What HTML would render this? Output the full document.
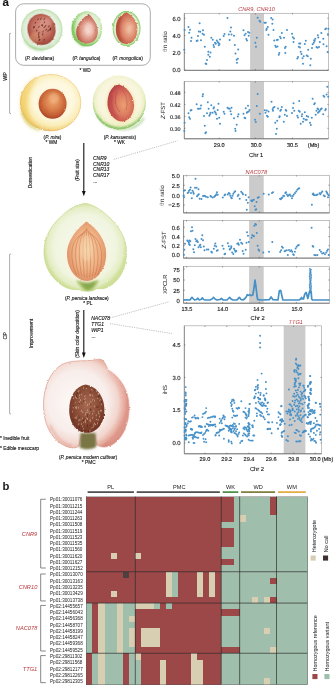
<!DOCTYPE html><html><head><meta charset="utf-8"><style>
html,body{margin:0;padding:0;background:#fff;width:333px;height:685px;overflow:hidden}
svg{display:block}
text{font-family:'Liberation Sans', sans-serif;fill:#1a1a1a}
.tk text{text-rendering:geometricPrecision;stroke:#1a1a1a;stroke-width:0.13px}
.tk text.red{stroke:none}
.tk text.ns{stroke:none}
.tk2 text{stroke:#1a1a1a;stroke-width:0.14px}
.it{font-style:italic}
.red{fill:#b8373c}
</style></head><body>
<svg width="333" height="685" viewBox="0 0 333 685">
<defs>
<filter id="rough" x="-10%" y="-10%" width="120%" height="120%"><feTurbulence type="fractalNoise" baseFrequency="0.35" numOctaves="2" seed="4" result="n"/><feDisplacementMap in="SourceGraphic" in2="n" scale="2.2" xChannelSelector="R" yChannelSelector="G"/></filter>
<filter id="blur1" x="-30%" y="-30%" width="160%" height="160%"><feGaussianBlur stdDeviation="1.1"/></filter>
<filter id="blur2" x="-30%" y="-30%" width="160%" height="160%"><feGaussianBlur stdDeviation="2"/></filter>
<radialGradient id="g_dav_out" cx="50%" cy="50%" r="50%"><stop offset="0" stop-color="#f6faf2"/><stop offset="0.7" stop-color="#eaf3e4"/><stop offset="0.9" stop-color="#d8ebd0"/><stop offset="1" stop-color="#bcdfac"/></radialGradient>
<radialGradient id="g_dav_in" cx="52%" cy="44%" r="62%"><stop offset="0" stop-color="#d89484"/><stop offset="0.5" stop-color="#c47262"/><stop offset="0.82" stop-color="#a44c3e"/><stop offset="1" stop-color="#823428"/></radialGradient>
<radialGradient id="g_tan_out" cx="55%" cy="45%" r="52%"><stop offset="0" stop-color="#f2f8ec"/><stop offset="0.72" stop-color="#dcefcf"/><stop offset="0.9" stop-color="#acdc90"/><stop offset="1" stop-color="#80c45e"/></radialGradient>
<radialGradient id="g_tan_in" cx="55%" cy="55%" r="58%"><stop offset="0" stop-color="#f8e0d6"/><stop offset="0.45" stop-color="#e4a696"/><stop offset="0.8" stop-color="#c86e5c"/><stop offset="1" stop-color="#a84a3c"/></radialGradient>
<radialGradient id="g_mon_out" cx="50%" cy="50%" r="50%"><stop offset="0" stop-color="#f0f8ea"/><stop offset="0.86" stop-color="#e0f0d4"/><stop offset="0.94" stop-color="#a8dc88"/><stop offset="1" stop-color="#78c458"/></radialGradient>
<radialGradient id="g_mon_in" cx="62%" cy="52%" r="62%"><stop offset="0" stop-color="#f2c6aa"/><stop offset="0.5" stop-color="#de8a6e"/><stop offset="1" stop-color="#b84c3a"/></radialGradient>
<radialGradient id="g_mira_out" cx="55%" cy="45%" r="55%"><stop offset="0" stop-color="#fffdf2"/><stop offset="0.6" stop-color="#fdf7dc"/><stop offset="0.82" stop-color="#faedb8"/><stop offset="0.94" stop-color="#f4d88a"/><stop offset="1" stop-color="#ecc070"/></radialGradient>
<radialGradient id="g_mira_in" cx="52%" cy="42%" r="60%"><stop offset="0" stop-color="#eea672"/><stop offset="0.4" stop-color="#de8650"/><stop offset="0.8" stop-color="#c25c32"/><stop offset="1" stop-color="#a23e22"/></radialGradient>
<radialGradient id="g_kan_out" cx="50%" cy="45%" r="52%"><stop offset="0" stop-color="#fdfcf0"/><stop offset="0.75" stop-color="#f8f5dc"/><stop offset="0.9" stop-color="#eef0c8"/><stop offset="0.96" stop-color="#c4de9a"/><stop offset="1" stop-color="#98c878"/></radialGradient>
<radialGradient id="g_kan_in" cx="60%" cy="55%" r="60%"><stop offset="0" stop-color="#eaa070"/><stop offset="0.45" stop-color="#dc7e62"/><stop offset="0.8" stop-color="#c85650"/><stop offset="1" stop-color="#b44048"/></radialGradient>
<radialGradient id="g_pl_out" cx="50%" cy="50%" r="50%"><stop offset="0" stop-color="#f8faf0"/><stop offset="0.75" stop-color="#f0f5e0"/><stop offset="0.92" stop-color="#e4edc4"/><stop offset="1" stop-color="#d0e09a"/></radialGradient>
<radialGradient id="g_pl_in" cx="50%" cy="48%" r="55%"><stop offset="0" stop-color="#f6d4a8"/><stop offset="0.6" stop-color="#eeb284"/><stop offset="1" stop-color="#dc8e62"/></radialGradient>
<radialGradient id="g_pmc_out" cx="40%" cy="48%" r="58%"><stop offset="0" stop-color="#fdfaf8"/><stop offset="0.6" stop-color="#f8eeeb"/><stop offset="0.82" stop-color="#f2d6ce"/><stop offset="0.94" stop-color="#e6aea0"/><stop offset="1" stop-color="#d88e80"/></radialGradient>
<radialGradient id="g_pmc_in" cx="50%" cy="42%" r="58%"><stop offset="0" stop-color="#a86a52"/><stop offset="0.6" stop-color="#8a4c36"/><stop offset="1" stop-color="#703424"/></radialGradient>
</defs>
<rect x="15.6" y="3.8" width="134.7" height="61.5" rx="8" ry="8" fill="none" stroke="#666" stroke-width="0.55"/>
<circle cx="41.8" cy="29.5" r="20.8" fill="url(#g_dav_out)" filter="url(#rough)"/>
<path d="M24,40 C27,47 35,51 44,50.5" stroke="#9ccf86" stroke-width="1.6" fill="none" opacity="0.7" filter="url(#blur1)"/>
<ellipse cx="41.5" cy="29.4" rx="14" ry="15.7" transform="rotate(-12 41.5 29.4)" fill="url(#g_dav_in)" filter="url(#rough)"/>
<ellipse cx="35.5" cy="37.5" rx="6.5" ry="5" fill="#e0a078" opacity="0.45" filter="url(#blur1)"/>
<path d="M30,46 C36,50 46,50 51,45" stroke="#9ccc88" stroke-width="1.5" fill="none" opacity="0.5" filter="url(#blur1)"/>
<ellipse cx="46" cy="22" rx="6" ry="4.5" fill="#e0a094" opacity="0.55" filter="url(#blur1)"/>
<ellipse cx="35.4" cy="22.7" rx="0.45" ry="1.1" fill="#4e1812" opacity="0.75" transform="rotate(25 35.4 22.7)"/>
<ellipse cx="44.2" cy="19.1" rx="0.45" ry="1.1" fill="#4e1812" opacity="0.75" transform="rotate(25 44.2 19.1)"/>
<ellipse cx="40.9" cy="18.8" rx="0.45" ry="1.1" fill="#4e1812" opacity="0.75" transform="rotate(25 40.9 18.8)"/>
<ellipse cx="48.1" cy="30.8" rx="0.45" ry="1.1" fill="#4e1812" opacity="0.75" transform="rotate(25 48.1 30.8)"/>
<ellipse cx="48.9" cy="26.3" rx="0.45" ry="1.1" fill="#4e1812" opacity="0.75" transform="rotate(25 48.9 26.3)"/>
<ellipse cx="44.2" cy="27.2" rx="0.45" ry="1.1" fill="#4e1812" opacity="0.75" transform="rotate(25 44.2 27.2)"/>
<ellipse cx="36.7" cy="30.5" rx="0.45" ry="1.1" fill="#4e1812" opacity="0.75" transform="rotate(25 36.7 30.5)"/>
<ellipse cx="34.3" cy="27.1" rx="0.45" ry="1.1" fill="#4e1812" opacity="0.75" transform="rotate(25 34.3 27.1)"/>
<ellipse cx="46.1" cy="29.8" rx="0.45" ry="1.1" fill="#4e1812" opacity="0.75" transform="rotate(25 46.1 29.8)"/>
<ellipse cx="39.8" cy="39.8" rx="0.45" ry="1.1" fill="#4e1812" opacity="0.75" transform="rotate(25 39.8 39.8)"/>
<ellipse cx="41.9" cy="25.0" rx="0.45" ry="1.1" fill="#4e1812" opacity="0.75" transform="rotate(25 41.9 25.0)"/>
<ellipse cx="42.6" cy="25.5" rx="0.45" ry="1.1" fill="#4e1812" opacity="0.75" transform="rotate(25 42.6 25.5)"/>
<ellipse cx="38.9" cy="26.7" rx="0.45" ry="1.1" fill="#4e1812" opacity="0.75" transform="rotate(25 38.9 26.7)"/>
<ellipse cx="50.7" cy="29.5" rx="0.45" ry="1.1" fill="#4e1812" opacity="0.75" transform="rotate(25 50.7 29.5)"/>
<ellipse cx="42.7" cy="34.4" rx="0.45" ry="1.1" fill="#4e1812" opacity="0.75" transform="rotate(25 42.7 34.4)"/>
<ellipse cx="50.6" cy="28.3" rx="0.45" ry="1.1" fill="#4e1812" opacity="0.75" transform="rotate(25 50.6 28.3)"/>
<ellipse cx="39.1" cy="39.9" rx="0.45" ry="1.1" fill="#4e1812" opacity="0.75" transform="rotate(25 39.1 39.9)"/>
<ellipse cx="33.6" cy="27.2" rx="0.45" ry="1.1" fill="#4e1812" opacity="0.75" transform="rotate(25 33.6 27.2)"/>
<ellipse cx="44.2" cy="39.7" rx="0.45" ry="1.1" fill="#4e1812" opacity="0.75" transform="rotate(25 44.2 39.7)"/>
<ellipse cx="38.0" cy="19.3" rx="0.45" ry="1.1" fill="#4e1812" opacity="0.75" transform="rotate(25 38.0 19.3)"/>
<ellipse cx="45.7" cy="25.7" rx="0.45" ry="1.1" fill="#4e1812" opacity="0.75" transform="rotate(25 45.7 25.7)"/>
<ellipse cx="38.9" cy="32.9" rx="0.45" ry="1.1" fill="#4e1812" opacity="0.75" transform="rotate(25 38.9 32.9)"/>
<ellipse cx="43.0" cy="31.6" rx="0.45" ry="1.1" fill="#4e1812" opacity="0.75" transform="rotate(25 43.0 31.6)"/>
<ellipse cx="39.1" cy="37.6" rx="0.45" ry="1.1" fill="#4e1812" opacity="0.75" transform="rotate(25 39.1 37.6)"/>
<ellipse cx="49.6" cy="29.6" rx="0.45" ry="1.1" fill="#4e1812" opacity="0.75" transform="rotate(25 49.6 29.6)"/>
<ellipse cx="38.6" cy="34.6" rx="0.45" ry="1.1" fill="#4e1812" opacity="0.75" transform="rotate(25 38.6 34.6)"/>
<ellipse cx="44.3" cy="22.4" rx="0.45" ry="1.1" fill="#4e1812" opacity="0.75" transform="rotate(25 44.3 22.4)"/>
<ellipse cx="38.8" cy="36.4" rx="0.45" ry="1.1" fill="#4e1812" opacity="0.75" transform="rotate(25 38.8 36.4)"/>
<ellipse cx="86.9" cy="28.9" rx="15.3" ry="17.6" fill="url(#g_tan_out)" filter="url(#rough)"/>
<path d="M74,22 C71,32 74,42 84,46" stroke="#86c862" stroke-width="2" fill="none" opacity="0.8" filter="url(#blur1)"/>
<path d="M88.4,14 C92.5,17 97.8,24 97.8,32 C97.8,39 93,43.4 87,43.4 C80.5,43.4 76.2,39 76.2,32 C76.2,24 83,18 88.4,14 Z" fill="url(#g_tan_in)" filter="url(#rough)"/>
<ellipse cx="89" cy="29" rx="4" ry="6" fill="#f6d6cc" opacity="0.55" filter="url(#blur1)"/>
<ellipse cx="126.6" cy="28.6" rx="13.9" ry="17.5" fill="url(#g_mon_out)" filter="url(#rough)"/>
<path d="M126.3,12.3 C131,14.5 137.4,20 137.4,29 C137.4,38 132.5,44 126.6,44 C120.5,44 115.8,38 115.8,29 C115.8,20 121,14.5 126.3,12.3 Z" fill="url(#g_mon_in)" filter="url(#rough)"/>
<path d="M120.5,17 C116.8,25 117.5,36 122,41.5" stroke="#a8402e" stroke-width="2" fill="none" opacity="0.7" filter="url(#blur1)"/>
<ellipse cx="50.6" cy="102.6" rx="30.6" ry="28.6" fill="url(#g_mira_out)" filter="url(#rough)"/>
<path d="M38,77 C26,82 20.5,94 21,106 C21.5,117 27,126 38,130 C30,122 27,112 27.5,103 C28,92 32,84 38,77 Z" fill="#f2cc5c" opacity="0.75" filter="url(#blur2)"/>
<path d="M22,112 C25,122 32,128 40,130" stroke="#c8cc60" stroke-width="2.5" fill="none" opacity="0.6" filter="url(#blur1)"/>
<ellipse cx="50.6" cy="102.6" rx="30.2" ry="28.2" fill="none" stroke="#eab060" stroke-width="0.6" opacity="0.7" filter="url(#rough)"/>
<ellipse cx="52.6" cy="103.8" rx="15.4" ry="16.4" fill="#fbf3d8" opacity="0.8" filter="url(#blur1)"/>
<ellipse cx="52.6" cy="103.8" rx="14" ry="15" fill="url(#g_mira_in)" filter="url(#rough)"/>
<ellipse cx="54" cy="98" rx="5" ry="5" fill="#f2ba8a" opacity="0.55" filter="url(#blur1)"/>
<ellipse cx="119.3" cy="102.6" rx="26.6" ry="27" fill="url(#g_kan_out)" filter="url(#rough)"/>
<path d="M97,115 C102,125 112,129.5 124,129.5 C134,129 140,125 144,118" stroke="#8cc064" stroke-width="1.6" fill="none" opacity="0.7" filter="url(#blur1)"/>
<path d="M118,83 C127,84.5 135,93 136,104 C136.5,114 131,122 123,123.5 C114,124 106.5,115 105.5,105 C105,95 110,84.5 118,83 Z" fill="#f6e4a8" opacity="0.6" filter="url(#blur1)"/>
<path d="M118,84.6 C126,86 133,94 134,104 C134.5,113 130,120 123,121.5 C115,122 108.5,114 107.5,105 C107,96 111,86 118,84.6 Z" fill="url(#g_kan_in)" filter="url(#rough)"/>
<path d="M112,96 C110,104 112,113 118,118" stroke="#a82a3e" stroke-width="1.3" fill="none" opacity="0.55" filter="url(#blur1)"/>
<path d="M117,92 C114,99 115,107 120,112" stroke="#b03048" stroke-width="0.8" fill="none" opacity="0.5"/>
<path d="M122,90 C127,95 128,103 126,110" stroke="#b03048" stroke-width="0.8" fill="none" opacity="0.4"/>
<path d="M84.6,203.4 C92,203.6 102,210 110,218 C119,227 126.5,238 126.5,252 C126.5,268 120,280 110,286 C106,288.5 101,289.5 97,288.5 L93,290.5 L84,291 L79,289.5 C74,290 68,289 63,286 C52,279 44,267 44,252 C44,237 51,226 60,217.5 C68,209.5 77,203.8 84.6,203.4 Z" fill="url(#g_pl_out)" stroke="#c2d886" stroke-width="0.7" filter="url(#rough)"/>
<path d="M76,280 C79,286 83,290.5 88,291 C93,290.5 97,286 99,280 Z" fill="#a8c46a" opacity="0.9" filter="url(#blur1)"/>
<path d="M80,281 C82,286 85,289.5 88,290 C91,289.5 94,286 96,281 Z" fill="#86a44a" opacity="0.9" filter="url(#blur1)"/>
<path d="M86.6,220 C97,227 108,240 108,254 C108,271 97,283 87,283 C76,283 65,271 65,254 C65,240 77,227 86.6,220 Z" fill="#faf2e0" opacity="0.8" filter="url(#blur1)"/>
<path d="M86.6,221.6 C96,228 106.2,240 106.2,254 C106.2,270 96,281 87,281 C77,281 67,270 67,254 C67,240 78,228 86.6,221.6 Z" fill="url(#g_pl_in)" filter="url(#rough)"/>
<path d="M82.6,234.0 C68.6,240.0 70.2,262.0 76.6,274.8" stroke="#c05a38" stroke-width="0.75" fill="none" opacity="0.5"/>
<path d="M83.6,232.5 C72.9,240.0 74.5,262.0 79.2,275.6" stroke="#c05a38" stroke-width="0.75" fill="none" opacity="0.5"/>
<path d="M84.6,231.0 C77.2,240.0 78.8,262.0 81.8,276.4" stroke="#c05a38" stroke-width="0.75" fill="none" opacity="0.5"/>
<path d="M85.6,229.5 C81.5,240.0 83.1,262.0 84.4,277.2" stroke="#c05a38" stroke-width="0.75" fill="none" opacity="0.5"/>
<path d="M86.6,228.0 C85.8,240.0 87.4,262.0 87.0,278.0" stroke="#c05a38" stroke-width="0.75" fill="none" opacity="0.5"/>
<path d="M87.6,229.5 C90.1,240.0 91.7,262.0 89.6,277.2" stroke="#c05a38" stroke-width="0.75" fill="none" opacity="0.5"/>
<path d="M88.6,231.0 C94.4,240.0 96.0,262.0 92.2,276.4" stroke="#c05a38" stroke-width="0.75" fill="none" opacity="0.5"/>
<path d="M89.6,232.5 C98.7,240.0 100.3,262.0 94.8,275.6" stroke="#c05a38" stroke-width="0.75" fill="none" opacity="0.5"/>
<path d="M90.6,234.0 C103.0,240.0 104.6,262.0 97.4,274.8" stroke="#c05a38" stroke-width="0.75" fill="none" opacity="0.5"/>
<ellipse cx="86.5" cy="248" rx="6" ry="13" fill="#f8d8b0" opacity="0.45" filter="url(#blur1)"/>
<path d="M43.5,405 C43.5,385 52,370 62,364.5 C70,360.5 80,361 90,360.5 C95,360 99,358.5 101.5,359.5 C104.5,361 106.5,366 108,370 C120,377 129,390 129,407 C129,427 121,441 109.6,446 C104,448 99,447 96,444 L95,436 L81,436 L79,446 C77,448 73,448.5 68,447 C53,442 43.5,426 43.5,405 Z" fill="url(#g_pmc_out)" stroke="#dc9a8c" stroke-width="0.7" filter="url(#rough)"/>
<path d="M108,372 C120,382 126,396 126,410 C126,425 118,436 108,442" stroke="#eaa8a0" stroke-width="4" fill="none" opacity="0.5" filter="url(#blur2)"/>
<path d="M50,425 C55,437 63,444 72,446" stroke="#e2a092" stroke-width="3" fill="none" opacity="0.45" filter="url(#blur1)"/>
<path d="M80.5,433 L95.5,433 L96.5,446.5 C93,449.5 85,450.5 79.5,447.5 Z" fill="#7a7444" filter="url(#blur1)"/>
<path d="M85.6,384.5 C96,386 104.4,396 104.4,410 C104.4,424 96.5,432.8 86.8,432.8 C77,432.8 69.2,424 69.2,410 C69.2,396 76,386 85.6,384.5 Z" fill="url(#g_pmc_in)" filter="url(#rough)"/>
<ellipse cx="87.7" cy="425.6" rx="0.4" ry="1.1" transform="rotate(-10 87.7 425.6)" fill="#4a1e12" opacity="0.65"/>
<ellipse cx="76.7" cy="398.2" rx="0.4" ry="1.1" transform="rotate(-35 76.7 398.2)" fill="#e6cdb4" opacity="0.65"/>
<ellipse cx="101.4" cy="410.7" rx="0.4" ry="1.1" transform="rotate(-19 101.4 410.7)" fill="#e6cdb4" opacity="0.65"/>
<ellipse cx="88.4" cy="431.3" rx="0.4" ry="1.1" transform="rotate(-2 88.4 431.3)" fill="#4a1e12" opacity="0.65"/>
<ellipse cx="92.5" cy="395.7" rx="0.4" ry="1.1" transform="rotate(11 92.5 395.7)" fill="#e6cdb4" opacity="0.65"/>
<ellipse cx="94.3" cy="423.5" rx="0.4" ry="1.1" transform="rotate(29 94.3 423.5)" fill="#e6cdb4" opacity="0.65"/>
<ellipse cx="73.2" cy="406.2" rx="0.4" ry="1.1" transform="rotate(14 73.2 406.2)" fill="#4a1e12" opacity="0.65"/>
<ellipse cx="99.6" cy="416.7" rx="0.4" ry="1.1" transform="rotate(7 99.6 416.7)" fill="#e6cdb4" opacity="0.65"/>
<ellipse cx="85.9" cy="412.8" rx="0.4" ry="1.1" transform="rotate(29 85.9 412.8)" fill="#e6cdb4" opacity="0.65"/>
<ellipse cx="73.4" cy="412.3" rx="0.4" ry="1.1" transform="rotate(30 73.4 412.3)" fill="#4a1e12" opacity="0.65"/>
<ellipse cx="83.4" cy="388.0" rx="0.4" ry="1.1" transform="rotate(-8 83.4 388.0)" fill="#e6cdb4" opacity="0.65"/>
<ellipse cx="90.2" cy="394.8" rx="0.4" ry="1.1" transform="rotate(35 90.2 394.8)" fill="#e6cdb4" opacity="0.65"/>
<ellipse cx="90.4" cy="404.2" rx="0.4" ry="1.1" transform="rotate(-29 90.4 404.2)" fill="#4a1e12" opacity="0.65"/>
<ellipse cx="90.0" cy="430.6" rx="0.4" ry="1.1" transform="rotate(-5 90.0 430.6)" fill="#e6cdb4" opacity="0.65"/>
<ellipse cx="80.7" cy="400.2" rx="0.4" ry="1.1" transform="rotate(1 80.7 400.2)" fill="#e6cdb4" opacity="0.65"/>
<ellipse cx="79.7" cy="417.8" rx="0.4" ry="1.1" transform="rotate(7 79.7 417.8)" fill="#4a1e12" opacity="0.65"/>
<ellipse cx="73.7" cy="398.2" rx="0.4" ry="1.1" transform="rotate(15 73.7 398.2)" fill="#e6cdb4" opacity="0.65"/>
<ellipse cx="100.2" cy="400.0" rx="0.4" ry="1.1" transform="rotate(39 100.2 400.0)" fill="#e6cdb4" opacity="0.65"/>
<ellipse cx="83.7" cy="401.0" rx="0.4" ry="1.1" transform="rotate(29 83.7 401.0)" fill="#4a1e12" opacity="0.65"/>
<ellipse cx="101.6" cy="404.3" rx="0.4" ry="1.1" transform="rotate(6 101.6 404.3)" fill="#e6cdb4" opacity="0.65"/>
<ellipse cx="85.1" cy="398.9" rx="0.4" ry="1.1" transform="rotate(27 85.1 398.9)" fill="#e6cdb4" opacity="0.65"/>
<ellipse cx="79.2" cy="403.6" rx="0.4" ry="1.1" transform="rotate(-35 79.2 403.6)" fill="#4a1e12" opacity="0.65"/>
<ellipse cx="96.5" cy="391.2" rx="0.4" ry="1.1" transform="rotate(-33 96.5 391.2)" fill="#e6cdb4" opacity="0.65"/>
<ellipse cx="90.0" cy="395.3" rx="0.4" ry="1.1" transform="rotate(-28 90.0 395.3)" fill="#e6cdb4" opacity="0.65"/>
<ellipse cx="83.0" cy="428.0" rx="0.4" ry="1.1" transform="rotate(30 83.0 428.0)" fill="#4a1e12" opacity="0.65"/>
<ellipse cx="98.9" cy="413.8" rx="0.4" ry="1.1" transform="rotate(-36 98.9 413.8)" fill="#e6cdb4" opacity="0.65"/>
<ellipse cx="85.0" cy="396.3" rx="0.4" ry="1.1" transform="rotate(30 85.0 396.3)" fill="#e6cdb4" opacity="0.65"/>
<ellipse cx="98.1" cy="407.1" rx="0.4" ry="1.1" transform="rotate(40 98.1 407.1)" fill="#4a1e12" opacity="0.65"/>
<ellipse cx="85.2" cy="414.8" rx="0.4" ry="1.1" transform="rotate(8 85.2 414.8)" fill="#e6cdb4" opacity="0.65"/>
<ellipse cx="93.8" cy="411.0" rx="0.4" ry="1.1" transform="rotate(-7 93.8 411.0)" fill="#e6cdb4" opacity="0.65"/>
<ellipse cx="81.9" cy="403.3" rx="0.4" ry="1.1" transform="rotate(-37 81.9 403.3)" fill="#4a1e12" opacity="0.65"/>
<ellipse cx="92.8" cy="399.7" rx="0.4" ry="1.1" transform="rotate(37 92.8 399.7)" fill="#e6cdb4" opacity="0.65"/>
<ellipse cx="94.6" cy="400.6" rx="0.4" ry="1.1" transform="rotate(-3 94.6 400.6)" fill="#e6cdb4" opacity="0.65"/>
<ellipse cx="74.1" cy="406.7" rx="0.4" ry="1.1" transform="rotate(8 74.1 406.7)" fill="#4a1e12" opacity="0.65"/>
<ellipse cx="75.1" cy="402.6" rx="0.4" ry="1.1" transform="rotate(35 75.1 402.6)" fill="#e6cdb4" opacity="0.65"/>
<ellipse cx="76.3" cy="408.3" rx="0.4" ry="1.1" transform="rotate(18 76.3 408.3)" fill="#e6cdb4" opacity="0.65"/>
<ellipse cx="87.5" cy="421.3" rx="0.4" ry="1.1" transform="rotate(38 87.5 421.3)" fill="#4a1e12" opacity="0.65"/>
<ellipse cx="75.1" cy="406.8" rx="0.4" ry="1.1" transform="rotate(-39 75.1 406.8)" fill="#e6cdb4" opacity="0.65"/>
<ellipse cx="76.3" cy="417.7" rx="0.4" ry="1.1" transform="rotate(-38 76.3 417.7)" fill="#e6cdb4" opacity="0.65"/>
<ellipse cx="77.3" cy="397.1" rx="0.4" ry="1.1" transform="rotate(-35 77.3 397.1)" fill="#4a1e12" opacity="0.65"/>
<ellipse cx="79.2" cy="398.0" rx="0.4" ry="1.1" transform="rotate(14 79.2 398.0)" fill="#e6cdb4" opacity="0.65"/>
<ellipse cx="78.7" cy="424.1" rx="0.4" ry="1.1" transform="rotate(19 78.7 424.1)" fill="#e6cdb4" opacity="0.65"/>
<ellipse cx="90.7" cy="409.8" rx="0.4" ry="1.1" transform="rotate(14 90.7 409.8)" fill="#4a1e12" opacity="0.65"/>
<ellipse cx="94.6" cy="406.4" rx="0.4" ry="1.1" transform="rotate(-3 94.6 406.4)" fill="#e6cdb4" opacity="0.65"/>
<ellipse cx="79.2" cy="402.0" rx="0.4" ry="1.1" transform="rotate(-11 79.2 402.0)" fill="#e6cdb4" opacity="0.65"/>
<ellipse cx="83.1" cy="421.6" rx="0.4" ry="1.1" transform="rotate(8 83.1 421.6)" fill="#4a1e12" opacity="0.65"/>
<ellipse cx="83.7" cy="422.1" rx="0.4" ry="1.1" transform="rotate(22 83.7 422.1)" fill="#e6cdb4" opacity="0.65"/>
<ellipse cx="98.7" cy="411.9" rx="0.4" ry="1.1" transform="rotate(19 98.7 411.9)" fill="#e6cdb4" opacity="0.65"/>
<ellipse cx="84.0" cy="418.9" rx="0.4" ry="1.1" transform="rotate(24 84.0 418.9)" fill="#4a1e12" opacity="0.65"/>
<ellipse cx="87.3" cy="418.7" rx="0.4" ry="1.1" transform="rotate(-5 87.3 418.7)" fill="#e6cdb4" opacity="0.65"/>
<ellipse cx="85.2" cy="402.2" rx="0.4" ry="1.1" transform="rotate(-14 85.2 402.2)" fill="#e6cdb4" opacity="0.65"/>
<ellipse cx="79.5" cy="426.8" rx="0.4" ry="1.1" transform="rotate(-5 79.5 426.8)" fill="#4a1e12" opacity="0.65"/>
<ellipse cx="90.9" cy="401.7" rx="0.4" ry="1.1" transform="rotate(-13 90.9 401.7)" fill="#e6cdb4" opacity="0.65"/>
<ellipse cx="78.0" cy="391.9" rx="0.4" ry="1.1" transform="rotate(-4 78.0 391.9)" fill="#e6cdb4" opacity="0.65"/>
<ellipse cx="87.7" cy="416.7" rx="0.4" ry="1.1" transform="rotate(2 87.7 416.7)" fill="#4a1e12" opacity="0.65"/>
<ellipse cx="92.0" cy="427.8" rx="0.4" ry="1.1" transform="rotate(27 92.0 427.8)" fill="#e6cdb4" opacity="0.65"/>
<ellipse cx="90.2" cy="419.9" rx="0.4" ry="1.1" transform="rotate(25 90.2 419.9)" fill="#e6cdb4" opacity="0.65"/>
<ellipse cx="77.8" cy="393.3" rx="0.4" ry="1.1" transform="rotate(-12 77.8 393.3)" fill="#4a1e12" opacity="0.65"/>
<ellipse cx="92.7" cy="417.8" rx="0.4" ry="1.1" transform="rotate(24 92.7 417.8)" fill="#e6cdb4" opacity="0.65"/>
<ellipse cx="85.6" cy="422.1" rx="0.4" ry="1.1" transform="rotate(-7 85.6 422.1)" fill="#e6cdb4" opacity="0.65"/>
<ellipse cx="77.8" cy="416.0" rx="0.4" ry="1.1" transform="rotate(34 77.8 416.0)" fill="#4a1e12" opacity="0.65"/>
<ellipse cx="87.4" cy="410.3" rx="0.4" ry="1.1" transform="rotate(35 87.4 410.3)" fill="#e6cdb4" opacity="0.65"/>
<ellipse cx="98.4" cy="393.7" rx="0.4" ry="1.1" transform="rotate(-5 98.4 393.7)" fill="#e6cdb4" opacity="0.65"/>
<ellipse cx="101.5" cy="402.3" rx="0.4" ry="1.1" transform="rotate(-22 101.5 402.3)" fill="#4a1e12" opacity="0.65"/>
<ellipse cx="86.4" cy="388.4" rx="0.4" ry="1.1" transform="rotate(13 86.4 388.4)" fill="#e6cdb4" opacity="0.65"/>
<ellipse cx="78.3" cy="407.6" rx="0.4" ry="1.1" transform="rotate(-13 78.3 407.6)" fill="#e6cdb4" opacity="0.65"/>
<ellipse cx="87.4" cy="414.8" rx="0.4" ry="1.1" transform="rotate(7 87.4 414.8)" fill="#4a1e12" opacity="0.65"/>
<ellipse cx="83.5" cy="428.7" rx="0.4" ry="1.1" transform="rotate(-36 83.5 428.7)" fill="#e6cdb4" opacity="0.65"/>
<ellipse cx="97.8" cy="398.3" rx="0.4" ry="1.1" transform="rotate(34 97.8 398.3)" fill="#e6cdb4" opacity="0.65"/>
<ellipse cx="98.9" cy="396.1" rx="0.4" ry="1.1" transform="rotate(6 98.9 396.1)" fill="#4a1e12" opacity="0.65"/>
<ellipse cx="100.6" cy="410.6" rx="0.4" ry="1.1" transform="rotate(-26 100.6 410.6)" fill="#e6cdb4" opacity="0.65"/>
<ellipse cx="82.8" cy="426.4" rx="0.4" ry="1.1" transform="rotate(2 82.8 426.4)" fill="#e6cdb4" opacity="0.65"/>
<ellipse cx="73.5" cy="420.2" rx="0.4" ry="1.1" transform="rotate(9 73.5 420.2)" fill="#4a1e12" opacity="0.65"/>
<ellipse cx="82.4" cy="418.5" rx="0.4" ry="1.1" transform="rotate(29 82.4 418.5)" fill="#e6cdb4" opacity="0.65"/>
<ellipse cx="72.8" cy="411.8" rx="0.4" ry="1.1" transform="rotate(-12 72.8 411.8)" fill="#e6cdb4" opacity="0.65"/>
<ellipse cx="90.6" cy="424.6" rx="0.4" ry="1.1" transform="rotate(25 90.6 424.6)" fill="#4a1e12" opacity="0.65"/>
<ellipse cx="93.6" cy="426.6" rx="0.4" ry="1.1" transform="rotate(34 93.6 426.6)" fill="#e6cdb4" opacity="0.65"/>
<ellipse cx="91.8" cy="389.8" rx="0.4" ry="1.1" transform="rotate(-39 91.8 389.8)" fill="#e6cdb4" opacity="0.65"/>
<ellipse cx="76.5" cy="393.9" rx="0.4" ry="1.1" transform="rotate(-36 76.5 393.9)" fill="#4a1e12" opacity="0.65"/>
<ellipse cx="85.7" cy="420.6" rx="0.4" ry="1.1" transform="rotate(2 85.7 420.6)" fill="#e6cdb4" opacity="0.65"/>
<ellipse cx="77.1" cy="416.2" rx="0.4" ry="1.1" transform="rotate(22 77.1 416.2)" fill="#e6cdb4" opacity="0.65"/>
<ellipse cx="90.5" cy="409.1" rx="0.4" ry="1.1" transform="rotate(-30 90.5 409.1)" fill="#4a1e12" opacity="0.65"/>
<ellipse cx="89.8" cy="413.2" rx="0.4" ry="1.1" transform="rotate(38 89.8 413.2)" fill="#e6cdb4" opacity="0.65"/>
<ellipse cx="89.7" cy="403.8" rx="0.4" ry="1.1" transform="rotate(0 89.7 403.8)" fill="#e6cdb4" opacity="0.65"/>
<ellipse cx="83.2" cy="420.6" rx="0.4" ry="1.1" transform="rotate(-12 83.2 420.6)" fill="#4a1e12" opacity="0.65"/>
<ellipse cx="79.4" cy="395.3" rx="0.4" ry="1.1" transform="rotate(-11 79.4 395.3)" fill="#e6cdb4" opacity="0.65"/>
<ellipse cx="90.1" cy="421.0" rx="0.4" ry="1.1" transform="rotate(-30 90.1 421.0)" fill="#e6cdb4" opacity="0.65"/>
<ellipse cx="74.1" cy="402.5" rx="0.4" ry="1.1" transform="rotate(-10 74.1 402.5)" fill="#4a1e12" opacity="0.65"/>
<ellipse cx="92.7" cy="413.6" rx="0.4" ry="1.1" transform="rotate(-10 92.7 413.6)" fill="#e6cdb4" opacity="0.65"/>
<ellipse cx="75.6" cy="396.9" rx="0.4" ry="1.1" transform="rotate(-10 75.6 396.9)" fill="#e6cdb4" opacity="0.65"/>
<ellipse cx="90.8" cy="392.2" rx="0.4" ry="1.1" transform="rotate(-5 90.8 392.2)" fill="#4a1e12" opacity="0.65"/>
<ellipse cx="79.0" cy="420.4" rx="0.4" ry="1.1" transform="rotate(16 79.0 420.4)" fill="#e6cdb4" opacity="0.65"/>
<ellipse cx="75.1" cy="418.0" rx="0.4" ry="1.1" transform="rotate(-3 75.1 418.0)" fill="#e6cdb4" opacity="0.65"/>
<ellipse cx="87.2" cy="425.5" rx="0.4" ry="1.1" transform="rotate(16 87.2 425.5)" fill="#4a1e12" opacity="0.65"/>
<ellipse cx="96.2" cy="415.4" rx="0.4" ry="1.1" transform="rotate(-6 96.2 415.4)" fill="#e6cdb4" opacity="0.65"/>
<ellipse cx="98.1" cy="394.1" rx="0.4" ry="1.1" transform="rotate(-10 98.1 394.1)" fill="#e6cdb4" opacity="0.65"/>
<ellipse cx="98.2" cy="397.0" rx="0.4" ry="1.1" transform="rotate(-19 98.2 397.0)" fill="#4a1e12" opacity="0.65"/>
<ellipse cx="81.3" cy="410.8" rx="0.4" ry="1.1" transform="rotate(25 81.3 410.8)" fill="#e6cdb4" opacity="0.65"/>
<ellipse cx="78.9" cy="390.9" rx="0.4" ry="1.1" transform="rotate(23 78.9 390.9)" fill="#e6cdb4" opacity="0.65"/>
<ellipse cx="80.0" cy="392.3" rx="0.4" ry="1.1" transform="rotate(5 80.0 392.3)" fill="#4a1e12" opacity="0.65"/>
<ellipse cx="96.6" cy="419.4" rx="0.4" ry="1.1" transform="rotate(-40 96.6 419.4)" fill="#e6cdb4" opacity="0.65"/>
<ellipse cx="95.5" cy="424.5" rx="0.4" ry="1.1" transform="rotate(-36 95.5 424.5)" fill="#e6cdb4" opacity="0.65"/>
<ellipse cx="91.0" cy="412.9" rx="0.4" ry="1.1" transform="rotate(30 91.0 412.9)" fill="#4a1e12" opacity="0.65"/>
<ellipse cx="87.9" cy="412.1" rx="0.4" ry="1.1" transform="rotate(27 87.9 412.1)" fill="#e6cdb4" opacity="0.65"/>
<ellipse cx="97.4" cy="423.3" rx="0.4" ry="1.1" transform="rotate(14 97.4 423.3)" fill="#e6cdb4" opacity="0.65"/>
<ellipse cx="94.8" cy="390.2" rx="0.4" ry="1.1" transform="rotate(6 94.8 390.2)" fill="#4a1e12" opacity="0.65"/>
<ellipse cx="87.7" cy="404.9" rx="0.4" ry="1.1" transform="rotate(21 87.7 404.9)" fill="#e6cdb4" opacity="0.65"/>
<ellipse cx="73.3" cy="407.6" rx="0.4" ry="1.1" transform="rotate(-31 73.3 407.6)" fill="#e6cdb4" opacity="0.65"/>
<ellipse cx="86.7" cy="387.2" rx="0.4" ry="1.1" transform="rotate(-35 86.7 387.2)" fill="#4a1e12" opacity="0.65"/>
<ellipse cx="81.4" cy="424.1" rx="0.4" ry="1.1" transform="rotate(26 81.4 424.1)" fill="#e6cdb4" opacity="0.65"/>
<ellipse cx="87.1" cy="418.5" rx="0.4" ry="1.1" transform="rotate(-20 87.1 418.5)" fill="#e6cdb4" opacity="0.65"/>
<ellipse cx="76.4" cy="396.0" rx="0.4" ry="1.1" transform="rotate(-9 76.4 396.0)" fill="#4a1e12" opacity="0.65"/>
<ellipse cx="80.0" cy="419.5" rx="0.4" ry="1.1" transform="rotate(-12 80.0 419.5)" fill="#e6cdb4" opacity="0.65"/>
<ellipse cx="82.8" cy="412.2" rx="0.4" ry="1.1" transform="rotate(0 82.8 412.2)" fill="#e6cdb4" opacity="0.65"/>
<ellipse cx="96.9" cy="406.6" rx="0.4" ry="1.1" transform="rotate(20 96.9 406.6)" fill="#4a1e12" opacity="0.65"/>
<ellipse cx="93.9" cy="424.8" rx="0.4" ry="1.1" transform="rotate(20 93.9 424.8)" fill="#e6cdb4" opacity="0.65"/>
<ellipse cx="81.5" cy="394.6" rx="0.4" ry="1.1" transform="rotate(-1 81.5 394.6)" fill="#e6cdb4" opacity="0.65"/>
<ellipse cx="77.4" cy="392.3" rx="0.4" ry="1.1" transform="rotate(-28 77.4 392.3)" fill="#4a1e12" opacity="0.65"/>
<ellipse cx="98.2" cy="420.0" rx="0.4" ry="1.1" transform="rotate(33 98.2 420.0)" fill="#e6cdb4" opacity="0.65"/>
<ellipse cx="76.2" cy="407.4" rx="0.4" ry="1.1" transform="rotate(18 76.2 407.4)" fill="#e6cdb4" opacity="0.65"/>
<g class="tk2">
<text x="25" y="60.3" font-size="4.8">(<tspan class="it">P. davidiana</tspan>)</text>
<text x="72.5" y="60.3" font-size="4.8">(<tspan class="it">P. tangutica</tspan>)</text>
<text x="112.4" y="60.3" font-size="4.8">(<tspan class="it">P. mongolica</tspan>)</text>
<text x="79.5" y="72.2" font-size="4.8">* WD</text>
<text x="43.6" y="138.9" font-size="4.8">(<tspan class="it">P. mira</tspan>)</text>
<text x="45.6" y="144.1" font-size="4.8">* WM</text>
<text x="103.7" y="139.0" font-size="4.8">(<tspan class="it">P. kansuensis</tspan>)</text>
<text x="114" y="144.4" font-size="4.8">* WK</text>
<text x="65" y="299.6" font-size="4.8">(<tspan class="it">P. persica landrace</tspan>)</text>
<text x="83.3" y="304.5" font-size="4.8">* PL</text>
<text x="59" y="458.6" font-size="4.8">(<tspan class="it">P. persica modern cultivar</tspan>)</text>
<text x="81.8" y="463.6" font-size="4.8">* PMC</text>
<text x="0" y="440.3" font-size="4.8">* Inedible fruit</text>
<text x="0" y="449.6" font-size="4.8">* Edible mesocarp</text>
<text x="2.4" y="5.9" font-size="11.5" font-weight="bold">a</text>
<polyline points="11,33.2 9.6,33.6 9.6,113.2 11,113.6" fill="none" stroke="#8a8a8a" stroke-width="0.7"/>
<text transform="translate(6.9,76.5) rotate(-90)" font-size="5.2" text-anchor="middle" class="" >WP</text>
<polyline points="11,254 9.6,254.4 9.6,413.6 11,414" fill="none" stroke="#8a8a8a" stroke-width="0.7"/>
<text transform="translate(6.9,336) rotate(-90)" font-size="5.2" text-anchor="middle" class="" >CP</text>
<text transform="translate(32.3,172.5) rotate(-90)" font-size="5" text-anchor="middle" class="" >Domestication</text>
<text transform="translate(32.5,333.5) rotate(-90)" font-size="5" text-anchor="middle" class="" >Improvement</text>
<text transform="translate(79.4,170) rotate(-90)" font-size="4.6" text-anchor="middle" class="" >(Fruit size)</text>
<text transform="translate(78.9,334) rotate(-90)" font-size="4.8" text-anchor="middle" class="" >(Skin color deposition)</text>
<line x1="83.8" y1="143" x2="83.8" y2="191.5" stroke="#111" stroke-width="1.1"/>
<path d="M81.9,191 L85.7,191 L83.8,196.3 Z" fill="#111"/>
<line x1="83.8" y1="310" x2="83.8" y2="353" stroke="#111" stroke-width="1.1"/>
<path d="M81.9,352.6 L85.7,352.6 L83.8,357.9 Z" fill="#111"/>
<text x="93" y="159.70" font-size="5.0" class="it">CNR9</text>
<text x="93" y="165.55" font-size="5.0" class="it">CNR10</text>
<text x="93" y="171.40" font-size="5.0" class="it">CNR13</text>
<text x="93" y="177.25" font-size="5.0" class="it">CNR17</text>
<text x="93.3" y="182.60" font-size="4.8">...</text>
<text x="91.2" y="319.90" font-size="5.0" class="it">NAC078</text>
<text x="91.2" y="325.80" font-size="5.0" class="it">TTG1</text>
<text x="91.2" y="331.70" font-size="5.0" class="it">WIP1</text>
<text x="91.5" y="337.60" font-size="4.8">...</text>
<g stroke="#777" stroke-width="0.45" stroke-dasharray="1.2,1">
<line x1="113.7" y1="159.4" x2="177.5" y2="140.8"/>
<line x1="110" y1="317.9" x2="168.6" y2="301.9"/>
<line x1="110" y1="323.6" x2="172.3" y2="333.6"/>
</g>
</g>
<g class="tk">
<rect x="250.1" y="13.3" width="13.900000000000006" height="57.0" fill="#cbcbcb"/>
<rect x="184.3" y="13.3" width="144.2" height="57.0" fill="none" stroke="#a6a6a6" stroke-width="0.7"/>
<line x1="184.3" y1="70.3" x2="328.5" y2="70.3" stroke="#666" stroke-width="0.8"/>
<line x1="184.3" y1="13.3" x2="184.3" y2="70.3" stroke="#777" stroke-width="0.7"/>
<line x1="219.2" y1="13.3" x2="219.2" y2="14.5" stroke="#444" stroke-width="0.5"/>
<line x1="219.2" y1="70.3" x2="219.2" y2="69.1" stroke="#444" stroke-width="0.5"/>
<line x1="255.4" y1="13.3" x2="255.4" y2="14.5" stroke="#444" stroke-width="0.5"/>
<line x1="255.4" y1="70.3" x2="255.4" y2="69.1" stroke="#444" stroke-width="0.5"/>
<line x1="292.5" y1="13.3" x2="292.5" y2="14.5" stroke="#444" stroke-width="0.5"/>
<line x1="292.5" y1="70.3" x2="292.5" y2="69.1" stroke="#444" stroke-width="0.5"/>
<line x1="184.3" y1="18.3" x2="185.5" y2="18.3" stroke="#444" stroke-width="0.5"/>
<line x1="328.5" y1="18.3" x2="327.3" y2="18.3" stroke="#444" stroke-width="0.5"/>
<text x="180.60000000000002" y="20.70" font-size="5.9" text-anchor="end">6.0</text>
<line x1="184.3" y1="35.5" x2="185.5" y2="35.5" stroke="#444" stroke-width="0.5"/>
<line x1="328.5" y1="35.5" x2="327.3" y2="35.5" stroke="#444" stroke-width="0.5"/>
<text x="180.60000000000002" y="37.90" font-size="5.9" text-anchor="end">4.0</text>
<line x1="184.3" y1="52.7" x2="185.5" y2="52.7" stroke="#444" stroke-width="0.5"/>
<line x1="328.5" y1="52.7" x2="327.3" y2="52.7" stroke="#444" stroke-width="0.5"/>
<text x="180.60000000000002" y="55.10" font-size="5.9" text-anchor="end">2.0</text>
<line x1="184.3" y1="70.0" x2="185.5" y2="70.0" stroke="#444" stroke-width="0.5"/>
<line x1="328.5" y1="70.0" x2="327.3" y2="70.0" stroke="#444" stroke-width="0.5"/>
<text x="180.60000000000002" y="72.40" font-size="5.9" text-anchor="end">0.0</text>
<g fill="#4690c8">
<circle cx="184.6" cy="30.0" r="1.0"/>
<circle cx="184.3" cy="49.8" r="1.0"/>
<circle cx="188.5" cy="27.0" r="1.0"/>
<circle cx="190.0" cy="29.7" r="1.0"/>
<circle cx="189.2" cy="32.7" r="1.0"/>
<circle cx="191.5" cy="37.8" r="1.0"/>
<circle cx="191.0" cy="41.0" r="1.0"/>
<circle cx="196.7" cy="41.0" r="1.0"/>
<circle cx="197.5" cy="40.5" r="1.0"/>
<circle cx="198.0" cy="36.0" r="1.0"/>
<circle cx="199.6" cy="23.3" r="1.0"/>
<circle cx="198.8" cy="31.5" r="1.0"/>
<circle cx="200.3" cy="31.8" r="1.0"/>
<circle cx="201.0" cy="40.2" r="1.0"/>
<circle cx="203.0" cy="30.3" r="1.0"/>
<circle cx="202.6" cy="33.8" r="1.0"/>
<circle cx="204.0" cy="34.8" r="1.0"/>
<circle cx="204.8" cy="46.8" r="1.0"/>
<circle cx="208.3" cy="51.8" r="1.0"/>
<circle cx="210.5" cy="52.5" r="1.0"/>
<circle cx="208.3" cy="54.8" r="1.0"/>
<circle cx="209.8" cy="56.7" r="1.0"/>
<circle cx="207.0" cy="60.0" r="1.0"/>
<circle cx="205.6" cy="63.5" r="1.0"/>
<circle cx="206.3" cy="64.1" r="1.0"/>
<circle cx="211.3" cy="37.8" r="1.0"/>
<circle cx="212.8" cy="39.8" r="1.0"/>
<circle cx="213.5" cy="45.0" r="1.0"/>
<circle cx="214.0" cy="47.0" r="1.0"/>
<circle cx="215.0" cy="42.8" r="1.0"/>
<circle cx="215.8" cy="43.8" r="1.0"/>
<circle cx="216.8" cy="40.5" r="1.0"/>
<circle cx="217.6" cy="42.0" r="1.0"/>
<circle cx="218.5" cy="43.0" r="1.0"/>
<circle cx="218.8" cy="45.3" r="1.0"/>
<circle cx="219.5" cy="44.0" r="1.0"/>
<circle cx="220.0" cy="39.5" r="1.0"/>
<circle cx="223.7" cy="36.0" r="1.0"/>
<circle cx="224.5" cy="34.0" r="1.0"/>
<circle cx="227.5" cy="18.0" r="1.0"/>
<circle cx="228.8" cy="34.5" r="1.0"/>
<circle cx="229.6" cy="40.0" r="1.0"/>
<circle cx="230.3" cy="31.5" r="1.0"/>
<circle cx="231.0" cy="27.5" r="1.0"/>
<circle cx="231.5" cy="34.5" r="1.0"/>
<circle cx="234.0" cy="35.7" r="1.0"/>
<circle cx="234.8" cy="45.0" r="1.0"/>
<circle cx="238.2" cy="49.5" r="1.0"/>
<circle cx="235.5" cy="53.6" r="1.0"/>
<circle cx="236.6" cy="59.7" r="1.0"/>
<circle cx="237.8" cy="58.8" r="1.0"/>
<circle cx="237.0" cy="62.8" r="1.0"/>
<circle cx="243.5" cy="30.3" r="1.0"/>
<circle cx="244.5" cy="35.3" r="1.0"/>
<circle cx="245.6" cy="33.8" r="1.0"/>
<circle cx="248.0" cy="32.0" r="1.0"/>
<circle cx="249.3" cy="32.7" r="1.0"/>
<circle cx="248.7" cy="35.7" r="1.0"/>
<circle cx="246.3" cy="39.0" r="1.0"/>
<circle cx="247.0" cy="40.5" r="1.0"/>
<circle cx="257.6" cy="17.7" r="1.0"/>
<circle cx="259.5" cy="20.7" r="1.0"/>
<circle cx="260.3" cy="21.8" r="1.0"/>
<circle cx="256.8" cy="37.8" r="1.0"/>
<circle cx="255.3" cy="42.8" r="1.0"/>
<circle cx="256.0" cy="46.8" r="1.0"/>
<circle cx="264.5" cy="22.8" r="1.0"/>
<circle cx="265.8" cy="22.8" r="1.0"/>
<circle cx="267.8" cy="27.0" r="1.0"/>
<circle cx="266.7" cy="28.8" r="1.0"/>
<circle cx="266.3" cy="30.0" r="1.0"/>
<circle cx="268.5" cy="34.8" r="1.0"/>
<circle cx="271.2" cy="18.0" r="1.0"/>
<circle cx="272.6" cy="19.5" r="1.0"/>
<circle cx="272.3" cy="23.7" r="1.0"/>
<circle cx="273.5" cy="30.0" r="1.0"/>
<circle cx="274.2" cy="40.5" r="1.0"/>
<circle cx="275.3" cy="45.8" r="1.0"/>
<circle cx="276.0" cy="47.0" r="1.0"/>
<circle cx="276.8" cy="40.0" r="1.0"/>
<circle cx="277.5" cy="46.5" r="1.0"/>
<circle cx="277.8" cy="39.8" r="1.0"/>
<circle cx="280.0" cy="36.8" r="1.0"/>
<circle cx="280.8" cy="38.3" r="1.0"/>
<circle cx="281.8" cy="33.0" r="1.0"/>
<circle cx="284.0" cy="37.8" r="1.0"/>
<circle cx="279.3" cy="53.0" r="1.0"/>
<circle cx="278.8" cy="54.8" r="1.0"/>
<circle cx="285.0" cy="48.0" r="1.0"/>
<circle cx="285.7" cy="46.8" r="1.0"/>
<circle cx="285.3" cy="53.0" r="1.0"/>
<circle cx="287.0" cy="30.0" r="1.0"/>
<circle cx="292.0" cy="33.8" r="1.0"/>
<circle cx="292.8" cy="37.2" r="1.0"/>
<circle cx="294.0" cy="38.6" r="1.0"/>
<circle cx="293.5" cy="42.0" r="1.0"/>
<circle cx="299.2" cy="43.5" r="1.0"/>
<circle cx="298.8" cy="46.8" r="1.0"/>
<circle cx="300.0" cy="47.6" r="1.0"/>
<circle cx="300.7" cy="51.8" r="1.0"/>
<circle cx="301.5" cy="54.0" r="1.0"/>
<circle cx="303.7" cy="56.3" r="1.0"/>
<circle cx="302.5" cy="58.2" r="1.0"/>
<circle cx="297.3" cy="58.5" r="1.0"/>
<circle cx="298.0" cy="57.0" r="1.0"/>
<circle cx="303.0" cy="63.8" r="1.0"/>
<circle cx="305.8" cy="40.8" r="1.0"/>
<circle cx="304.8" cy="44.0" r="1.0"/>
<circle cx="306.7" cy="55.5" r="1.0"/>
<circle cx="307.8" cy="56.3" r="1.0"/>
<circle cx="308.2" cy="49.8" r="1.0"/>
<circle cx="310.8" cy="58.8" r="1.0"/>
<circle cx="310.3" cy="65.3" r="1.0"/>
<circle cx="312.0" cy="48.0" r="1.0"/>
<circle cx="312.7" cy="44.3" r="1.0"/>
<circle cx="313.8" cy="42.8" r="1.0"/>
<circle cx="314.2" cy="40.2" r="1.0"/>
<circle cx="315.3" cy="38.7" r="1.0"/>
<circle cx="316.5" cy="47.0" r="1.0"/>
<circle cx="317.5" cy="47.7" r="1.0"/>
<circle cx="319.0" cy="47.0" r="1.0"/>
<circle cx="318.3" cy="37.5" r="1.0"/>
<circle cx="317.8" cy="35.3" r="1.0"/>
<circle cx="319.8" cy="42.0" r="1.0"/>
<circle cx="321.3" cy="33.0" r="1.0"/>
<circle cx="323.3" cy="38.7" r="1.0"/>
<circle cx="323.5" cy="44.3" r="1.0"/>
<circle cx="325.3" cy="29.3" r="1.0"/>
<circle cx="326.0" cy="28.6" r="1.0"/>
<circle cx="328.3" cy="28.8" r="1.0"/>
<circle cx="328.0" cy="34.3" r="1.0"/>
<circle cx="326.6" cy="46.2" r="1.0"/>
<circle cx="327.6" cy="52.1" r="1.0"/>
<circle cx="300.3" cy="43.5" r="1.0"/>
<circle cx="314.7" cy="41.0" r="1.0"/>
</g>
<text x="238.2" y="10.8" font-size="5.6" class="it red">CNR9, CNR10</text>
<text transform="translate(167.3,52) rotate(-90)" font-size="6" text-anchor="start" class="ns" ><tspan fill="#777">θ</tspan>π ratio</text>
<rect x="250.1" y="81.4" width="13.900000000000006" height="57.400000000000006" fill="#cbcbcb"/>
<rect x="184.3" y="81.4" width="144.2" height="57.400000000000006" fill="none" stroke="#a6a6a6" stroke-width="0.7"/>
<line x1="184.3" y1="138.8" x2="328.5" y2="138.8" stroke="#666" stroke-width="0.8"/>
<line x1="184.3" y1="81.4" x2="184.3" y2="138.8" stroke="#777" stroke-width="0.7"/>
<line x1="219.2" y1="81.4" x2="219.2" y2="82.60000000000001" stroke="#444" stroke-width="0.5"/>
<line x1="219.2" y1="138.8" x2="219.2" y2="137.60000000000002" stroke="#444" stroke-width="0.5"/>
<line x1="255.4" y1="81.4" x2="255.4" y2="82.60000000000001" stroke="#444" stroke-width="0.5"/>
<line x1="255.4" y1="138.8" x2="255.4" y2="137.60000000000002" stroke="#444" stroke-width="0.5"/>
<line x1="292.5" y1="81.4" x2="292.5" y2="82.60000000000001" stroke="#444" stroke-width="0.5"/>
<line x1="292.5" y1="138.8" x2="292.5" y2="137.60000000000002" stroke="#444" stroke-width="0.5"/>
<line x1="184.3" y1="92.4" x2="185.5" y2="92.4" stroke="#444" stroke-width="0.5"/>
<line x1="328.5" y1="92.4" x2="327.3" y2="92.4" stroke="#444" stroke-width="0.5"/>
<text x="180.60000000000002" y="94.80" font-size="5.45" text-anchor="end">0.48</text>
<line x1="184.3" y1="104.4" x2="185.5" y2="104.4" stroke="#444" stroke-width="0.5"/>
<line x1="328.5" y1="104.4" x2="327.3" y2="104.4" stroke="#444" stroke-width="0.5"/>
<text x="180.60000000000002" y="106.80" font-size="5.45" text-anchor="end">0.42</text>
<line x1="184.3" y1="116.4" x2="185.5" y2="116.4" stroke="#444" stroke-width="0.5"/>
<line x1="328.5" y1="116.4" x2="327.3" y2="116.4" stroke="#444" stroke-width="0.5"/>
<text x="180.60000000000002" y="118.80" font-size="5.45" text-anchor="end">0.36</text>
<line x1="184.3" y1="128.3" x2="185.5" y2="128.3" stroke="#444" stroke-width="0.5"/>
<line x1="328.5" y1="128.3" x2="327.3" y2="128.3" stroke="#444" stroke-width="0.5"/>
<text x="180.60000000000002" y="130.70" font-size="5.45" text-anchor="end">0.30</text>
<g fill="#4690c8">
<circle cx="184.6" cy="122.8" r="1.0"/>
<circle cx="184.3" cy="131.0" r="1.0"/>
<circle cx="188.5" cy="113.3" r="1.0"/>
<circle cx="189.2" cy="117.2" r="1.0"/>
<circle cx="190.0" cy="118.7" r="1.0"/>
<circle cx="190.6" cy="110.5" r="1.0"/>
<circle cx="191.5" cy="110.0" r="1.0"/>
<circle cx="196.6" cy="104.3" r="1.0"/>
<circle cx="198.0" cy="108.8" r="1.0"/>
<circle cx="199.0" cy="108.8" r="1.0"/>
<circle cx="200.5" cy="108.5" r="1.0"/>
<circle cx="201.0" cy="105.5" r="1.0"/>
<circle cx="202.6" cy="96.2" r="1.0"/>
<circle cx="203.0" cy="94.3" r="1.0"/>
<circle cx="204.0" cy="116.0" r="1.0"/>
<circle cx="204.8" cy="125.8" r="1.0"/>
<circle cx="205.3" cy="133.3" r="1.0"/>
<circle cx="206.0" cy="132.3" r="1.0"/>
<circle cx="207.0" cy="113.3" r="1.0"/>
<circle cx="207.8" cy="102.2" r="1.0"/>
<circle cx="208.6" cy="108.8" r="1.0"/>
<circle cx="209.3" cy="115.7" r="1.0"/>
<circle cx="210.0" cy="114.2" r="1.0"/>
<circle cx="210.5" cy="112.7" r="1.0"/>
<circle cx="211.3" cy="105.2" r="1.0"/>
<circle cx="212.5" cy="112.7" r="1.0"/>
<circle cx="213.5" cy="108.5" r="1.0"/>
<circle cx="214.0" cy="107.3" r="1.0"/>
<circle cx="214.7" cy="111.5" r="1.0"/>
<circle cx="215.5" cy="112.7" r="1.0"/>
<circle cx="216.2" cy="114.2" r="1.0"/>
<circle cx="217.0" cy="118.7" r="1.0"/>
<circle cx="217.7" cy="110.0" r="1.0"/>
<circle cx="218.5" cy="103.7" r="1.0"/>
<circle cx="219.2" cy="117.8" r="1.0"/>
<circle cx="220.0" cy="123.8" r="1.0"/>
<circle cx="223.7" cy="111.8" r="1.0"/>
<circle cx="224.5" cy="113.8" r="1.0"/>
<circle cx="227.5" cy="107.8" r="1.0"/>
<circle cx="228.5" cy="108.5" r="1.0"/>
<circle cx="229.7" cy="108.8" r="1.0"/>
<circle cx="230.5" cy="111.2" r="1.0"/>
<circle cx="231.2" cy="114.2" r="1.0"/>
<circle cx="231.5" cy="107.8" r="1.0"/>
<circle cx="234.0" cy="118.3" r="1.0"/>
<circle cx="237.8" cy="116.5" r="1.0"/>
<circle cx="238.5" cy="114.2" r="1.0"/>
<circle cx="236.7" cy="124.7" r="1.0"/>
<circle cx="235.2" cy="128.8" r="1.0"/>
<circle cx="235.5" cy="131.0" r="1.0"/>
<circle cx="243.5" cy="113.8" r="1.0"/>
<circle cx="244.5" cy="117.8" r="1.0"/>
<circle cx="245.3" cy="118.3" r="1.0"/>
<circle cx="245.7" cy="108.2" r="1.0"/>
<circle cx="248.0" cy="105.8" r="1.0"/>
<circle cx="246.8" cy="112.7" r="1.0"/>
<circle cx="247.5" cy="112.0" r="1.0"/>
<circle cx="248.7" cy="111.5" r="1.0"/>
<circle cx="249.5" cy="110.0" r="1.0"/>
<circle cx="257.6" cy="94.0" r="1.0"/>
<circle cx="256.8" cy="106.0" r="1.0"/>
<circle cx="259.8" cy="113.8" r="1.0"/>
<circle cx="255.0" cy="119.8" r="1.0"/>
<circle cx="255.8" cy="122.0" r="1.0"/>
<circle cx="264.8" cy="110.3" r="1.0"/>
<circle cx="265.5" cy="112.7" r="1.0"/>
<circle cx="266.7" cy="110.5" r="1.0"/>
<circle cx="267.0" cy="115.7" r="1.0"/>
<circle cx="267.8" cy="116.8" r="1.0"/>
<circle cx="268.5" cy="111.5" r="1.0"/>
<circle cx="271.5" cy="101.8" r="1.0"/>
<circle cx="272.6" cy="109.3" r="1.0"/>
<circle cx="273.3" cy="107.8" r="1.0"/>
<circle cx="274.5" cy="107.0" r="1.0"/>
<circle cx="273.0" cy="110.8" r="1.0"/>
<circle cx="275.3" cy="122.8" r="1.0"/>
<circle cx="277.2" cy="120.8" r="1.0"/>
<circle cx="276.8" cy="128.8" r="1.0"/>
<circle cx="276.0" cy="134.0" r="1.0"/>
<circle cx="278.0" cy="108.5" r="1.0"/>
<circle cx="279.3" cy="117.2" r="1.0"/>
<circle cx="279.7" cy="116.3" r="1.0"/>
<circle cx="280.3" cy="110.8" r="1.0"/>
<circle cx="281.0" cy="109.7" r="1.0"/>
<circle cx="281.8" cy="107.0" r="1.0"/>
<circle cx="283.8" cy="121.7" r="1.0"/>
<circle cx="284.8" cy="114.8" r="1.0"/>
<circle cx="285.7" cy="110.0" r="1.0"/>
<circle cx="286.3" cy="110.8" r="1.0"/>
<circle cx="287.0" cy="116.0" r="1.0"/>
<circle cx="292.0" cy="113.0" r="1.0"/>
<circle cx="293.0" cy="108.0" r="1.0"/>
<circle cx="293.5" cy="103.3" r="1.0"/>
<circle cx="294.3" cy="110.8" r="1.0"/>
<circle cx="297.3" cy="115.7" r="1.0"/>
<circle cx="298.0" cy="117.5" r="1.0"/>
<circle cx="299.2" cy="101.0" r="1.0"/>
<circle cx="298.8" cy="110.8" r="1.0"/>
<circle cx="299.8" cy="111.8" r="1.0"/>
<circle cx="300.7" cy="123.8" r="1.0"/>
<circle cx="301.8" cy="116.3" r="1.0"/>
<circle cx="302.2" cy="114.2" r="1.0"/>
<circle cx="303.0" cy="121.7" r="1.0"/>
<circle cx="303.7" cy="118.7" r="1.0"/>
<circle cx="304.8" cy="112.3" r="1.0"/>
<circle cx="305.5" cy="119.8" r="1.0"/>
<circle cx="306.7" cy="119.8" r="1.0"/>
<circle cx="306.7" cy="116.0" r="1.0"/>
<circle cx="308.2" cy="116.8" r="1.0"/>
<circle cx="310.0" cy="122.8" r="1.0"/>
<circle cx="310.8" cy="125.0" r="1.0"/>
<circle cx="311.8" cy="117.8" r="1.0"/>
<circle cx="312.6" cy="98.8" r="1.0"/>
<circle cx="314.2" cy="104.3" r="1.0"/>
<circle cx="314.8" cy="103.3" r="1.0"/>
<circle cx="315.7" cy="114.8" r="1.0"/>
<circle cx="316.5" cy="110.8" r="1.0"/>
<circle cx="317.5" cy="108.5" r="1.0"/>
<circle cx="318.3" cy="109.3" r="1.0"/>
<circle cx="319.0" cy="111.8" r="1.0"/>
<circle cx="319.8" cy="110.8" r="1.0"/>
<circle cx="320.8" cy="109.3" r="1.0"/>
<circle cx="321.7" cy="108.5" r="1.0"/>
<circle cx="318.0" cy="112.7" r="1.0"/>
<circle cx="323.2" cy="114.2" r="1.0"/>
<circle cx="323.5" cy="95.8" r="1.0"/>
<circle cx="327.3" cy="86.7" r="1.0"/>
<circle cx="326.6" cy="94.4" r="1.0"/>
<circle cx="328.2" cy="96.8" r="1.0"/>
<circle cx="324.3" cy="96.8" r="1.0"/>
<circle cx="325.8" cy="109.0" r="1.0"/>
<circle cx="325.3" cy="110.2" r="1.0"/>
</g>
<text transform="translate(164.9,119) rotate(-90)" font-size="6" text-anchor="start" class="ns" ><tspan class="it">Z</tspan>-FST</text>
<text x="219.3" y="146.9" font-size="5.6" text-anchor="middle">29.0</text>
<text x="256.2" y="146.9" font-size="5.6" text-anchor="middle">30.0</text>
<text x="292.4" y="146.9" font-size="5.6" text-anchor="middle">30.5</text>
<text x="313.6" y="146.9" font-size="5.6" text-anchor="middle">(Mb)</text>
<text x="256.2" y="156.6" font-size="5.8" text-anchor="middle">Chr 1</text>
<rect x="249.1" y="175.3" width="14.599999999999994" height="37.599999999999994" fill="#cbcbcb"/>
<rect x="183.6" y="175.3" width="145.9" height="37.599999999999994" fill="none" stroke="#a6a6a6" stroke-width="0.7"/>
<line x1="183.6" y1="212.9" x2="329.5" y2="212.9" stroke="#666" stroke-width="0.8"/>
<line x1="183.6" y1="175.3" x2="183.6" y2="212.9" stroke="#777" stroke-width="0.7"/>
<line x1="186.6" y1="175.3" x2="186.6" y2="176.5" stroke="#444" stroke-width="0.5"/>
<line x1="186.6" y1="212.9" x2="186.6" y2="211.70000000000002" stroke="#444" stroke-width="0.5"/>
<line x1="222.6" y1="175.3" x2="222.6" y2="176.5" stroke="#444" stroke-width="0.5"/>
<line x1="222.6" y1="212.9" x2="222.6" y2="211.70000000000002" stroke="#444" stroke-width="0.5"/>
<line x1="259.3" y1="175.3" x2="259.3" y2="176.5" stroke="#444" stroke-width="0.5"/>
<line x1="259.3" y1="212.9" x2="259.3" y2="211.70000000000002" stroke="#444" stroke-width="0.5"/>
<line x1="296.4" y1="175.3" x2="296.4" y2="176.5" stroke="#444" stroke-width="0.5"/>
<line x1="296.4" y1="212.9" x2="296.4" y2="211.70000000000002" stroke="#444" stroke-width="0.5"/>
<line x1="183.6" y1="185.2" x2="184.79999999999998" y2="185.2" stroke="#444" stroke-width="0.5"/>
<line x1="329.5" y1="185.2" x2="328.3" y2="185.2" stroke="#444" stroke-width="0.5"/>
<text x="179.9" y="187.60" font-size="5.9" text-anchor="end">2.5</text>
<line x1="183.6" y1="195.2" x2="184.79999999999998" y2="195.2" stroke="#444" stroke-width="0.5"/>
<line x1="329.5" y1="195.2" x2="328.3" y2="195.2" stroke="#444" stroke-width="0.5"/>
<text x="179.9" y="197.60" font-size="5.9" text-anchor="end">0.0</text>
<line x1="183.6" y1="205.0" x2="184.79999999999998" y2="205.0" stroke="#444" stroke-width="0.5"/>
<line x1="329.5" y1="205.0" x2="328.3" y2="205.0" stroke="#444" stroke-width="0.5"/>
<text x="179.9" y="207.40" font-size="5.9" text-anchor="end">&#8722;2.5</text>
<text x="179.9" y="178.4" font-size="5.9" text-anchor="end">5.0</text>
<g fill="#4690c8">
<circle cx="183.8" cy="190.8" r="1.0"/>
<circle cx="185.0" cy="190.3" r="1.0"/>
<circle cx="183.5" cy="195.7" r="1.0"/>
<circle cx="184.0" cy="197.2" r="1.0"/>
<circle cx="187.6" cy="193.0" r="1.0"/>
<circle cx="188.5" cy="192.3" r="1.0"/>
<circle cx="189.0" cy="190.8" r="1.0"/>
<circle cx="190.0" cy="189.7" r="1.0"/>
<circle cx="190.6" cy="187.5" r="1.0"/>
<circle cx="191.0" cy="193.0" r="1.0"/>
<circle cx="191.8" cy="198.3" r="1.0"/>
<circle cx="192.5" cy="190.8" r="1.0"/>
<circle cx="193.3" cy="192.3" r="1.0"/>
<circle cx="193.7" cy="193.8" r="1.0"/>
<circle cx="195.0" cy="187.8" r="1.0"/>
<circle cx="196.6" cy="187.8" r="1.0"/>
<circle cx="195.5" cy="178.8" r="1.0"/>
<circle cx="198.5" cy="189.3" r="1.0"/>
<circle cx="197.0" cy="196.3" r="1.0"/>
<circle cx="197.8" cy="195.3" r="1.0"/>
<circle cx="198.8" cy="194.2" r="1.0"/>
<circle cx="199.7" cy="198.7" r="1.0"/>
<circle cx="201.5" cy="199.0" r="1.0"/>
<circle cx="203.0" cy="196.0" r="1.0"/>
<circle cx="204.0" cy="195.7" r="1.0"/>
<circle cx="205.0" cy="196.0" r="1.0"/>
<circle cx="206.0" cy="196.8" r="1.0"/>
<circle cx="207.8" cy="197.2" r="1.0"/>
<circle cx="210.5" cy="196.0" r="1.0"/>
<circle cx="211.3" cy="196.8" r="1.0"/>
<circle cx="212.8" cy="197.5" r="1.0"/>
<circle cx="214.3" cy="196.8" r="1.0"/>
<circle cx="215.0" cy="196.0" r="1.0"/>
<circle cx="215.8" cy="195.3" r="1.0"/>
<circle cx="216.5" cy="194.2" r="1.0"/>
<circle cx="217.0" cy="192.3" r="1.0"/>
<circle cx="217.7" cy="194.8" r="1.0"/>
<circle cx="222.8" cy="197.5" r="1.0"/>
<circle cx="224.5" cy="195.3" r="1.0"/>
<circle cx="225.2" cy="194.5" r="1.0"/>
<circle cx="227.8" cy="194.5" r="1.0"/>
<circle cx="228.8" cy="193.0" r="1.0"/>
<circle cx="229.7" cy="193.8" r="1.0"/>
<circle cx="230.3" cy="195.7" r="1.0"/>
<circle cx="231.2" cy="197.5" r="1.0"/>
<circle cx="231.8" cy="198.3" r="1.0"/>
<circle cx="232.5" cy="195.7" r="1.0"/>
<circle cx="233.3" cy="193.8" r="1.0"/>
<circle cx="234.3" cy="192.3" r="1.0"/>
<circle cx="235.2" cy="191.2" r="1.0"/>
<circle cx="237.8" cy="196.0" r="1.0"/>
<circle cx="238.5" cy="194.8" r="1.0"/>
<circle cx="239.7" cy="198.7" r="1.0"/>
<circle cx="241.2" cy="191.8" r="1.0"/>
<circle cx="242.3" cy="193.0" r="1.0"/>
<circle cx="243.0" cy="194.2" r="1.0"/>
<circle cx="245.7" cy="195.0" r="1.0"/>
<circle cx="246.3" cy="200.0" r="1.0"/>
<circle cx="247.8" cy="202.8" r="1.0"/>
<circle cx="248.6" cy="197.2" r="1.0"/>
<circle cx="246.8" cy="209.8" r="1.0"/>
<circle cx="251.3" cy="200.5" r="1.0"/>
<circle cx="252.0" cy="201.3" r="1.0"/>
<circle cx="252.8" cy="200.2" r="1.0"/>
<circle cx="253.8" cy="199.8" r="1.0"/>
<circle cx="257.7" cy="197.8" r="1.0"/>
<circle cx="258.8" cy="197.2" r="1.0"/>
<circle cx="256.5" cy="202.0" r="1.0"/>
<circle cx="254.7" cy="206.2" r="1.0"/>
<circle cx="255.5" cy="209.8" r="1.0"/>
<circle cx="256.2" cy="209.2" r="1.0"/>
<circle cx="263.6" cy="193.8" r="1.0"/>
<circle cx="268.8" cy="194.5" r="1.0"/>
<circle cx="272.0" cy="193.0" r="1.0"/>
<circle cx="273.0" cy="192.3" r="1.0"/>
<circle cx="280.0" cy="198.7" r="1.0"/>
<circle cx="280.8" cy="199.3" r="1.0"/>
<circle cx="281.5" cy="198.3" r="1.0"/>
<circle cx="282.3" cy="197.5" r="1.0"/>
<circle cx="283.3" cy="195.7" r="1.0"/>
<circle cx="284.2" cy="196.0" r="1.0"/>
<circle cx="285.3" cy="193.0" r="1.0"/>
<circle cx="286.0" cy="192.3" r="1.0"/>
<circle cx="286.8" cy="194.5" r="1.0"/>
<circle cx="287.8" cy="196.0" r="1.0"/>
<circle cx="288.7" cy="195.3" r="1.0"/>
<circle cx="289.8" cy="194.5" r="1.0"/>
<circle cx="290.8" cy="196.0" r="1.0"/>
<circle cx="292.0" cy="198.3" r="1.0"/>
<circle cx="292.8" cy="196.0" r="1.0"/>
<circle cx="293.8" cy="194.5" r="1.0"/>
<circle cx="295.0" cy="193.0" r="1.0"/>
<circle cx="296.2" cy="191.5" r="1.0"/>
<circle cx="297.3" cy="189.7" r="1.0"/>
<circle cx="298.3" cy="188.8" r="1.0"/>
<circle cx="299.2" cy="188.2" r="1.0"/>
<circle cx="311.9" cy="204.7" r="1.0"/>
<circle cx="312.7" cy="194.3" r="1.0"/>
<circle cx="313.4" cy="193.6" r="1.0"/>
<circle cx="313.9" cy="195.0" r="1.0"/>
<circle cx="314.9" cy="195.3" r="1.0"/>
<circle cx="316.4" cy="195.0" r="1.0"/>
<circle cx="317.6" cy="194.6" r="1.0"/>
<circle cx="319.6" cy="193.3" r="1.0"/>
<circle cx="320.3" cy="194.3" r="1.0"/>
<circle cx="321.3" cy="192.8" r="1.0"/>
<circle cx="322.3" cy="191.6" r="1.0"/>
<circle cx="323.8" cy="195.6" r="1.0"/>
<circle cx="324.8" cy="196.3" r="1.0"/>
<circle cx="326.3" cy="191.6" r="1.0"/>
<circle cx="327.0" cy="192.8" r="1.0"/>
<circle cx="327.6" cy="194.0" r="1.0"/>
<circle cx="328.0" cy="197.3" r="1.0"/>
<circle cx="328.7" cy="195.3" r="1.0"/>
</g>
<text x="245.6" y="173.6" font-size="5.7" class="it red">NAC078</text>
<text transform="translate(163.5,206) rotate(-90)" font-size="6" text-anchor="start" class="ns" ><tspan fill="#777">θ</tspan>π ratio</text>
<rect x="249.1" y="220.4" width="14.599999999999994" height="37.70000000000002" fill="#cbcbcb"/>
<rect x="183.6" y="220.4" width="145.9" height="37.70000000000002" fill="none" stroke="#a6a6a6" stroke-width="0.7"/>
<line x1="183.6" y1="258.1" x2="329.5" y2="258.1" stroke="#666" stroke-width="0.8"/>
<line x1="183.6" y1="220.4" x2="183.6" y2="258.1" stroke="#777" stroke-width="0.7"/>
<line x1="186.6" y1="220.4" x2="186.6" y2="221.6" stroke="#444" stroke-width="0.5"/>
<line x1="186.6" y1="258.1" x2="186.6" y2="256.90000000000003" stroke="#444" stroke-width="0.5"/>
<line x1="222.6" y1="220.4" x2="222.6" y2="221.6" stroke="#444" stroke-width="0.5"/>
<line x1="222.6" y1="258.1" x2="222.6" y2="256.90000000000003" stroke="#444" stroke-width="0.5"/>
<line x1="259.3" y1="220.4" x2="259.3" y2="221.6" stroke="#444" stroke-width="0.5"/>
<line x1="259.3" y1="258.1" x2="259.3" y2="256.90000000000003" stroke="#444" stroke-width="0.5"/>
<line x1="296.4" y1="220.4" x2="296.4" y2="221.6" stroke="#444" stroke-width="0.5"/>
<line x1="296.4" y1="258.1" x2="296.4" y2="256.90000000000003" stroke="#444" stroke-width="0.5"/>
<line x1="183.6" y1="227.3" x2="184.79999999999998" y2="227.3" stroke="#444" stroke-width="0.5"/>
<line x1="329.5" y1="227.3" x2="328.3" y2="227.3" stroke="#444" stroke-width="0.5"/>
<text x="179.9" y="229.70" font-size="5.9" text-anchor="end">0.6</text>
<line x1="183.6" y1="236.6" x2="184.79999999999998" y2="236.6" stroke="#444" stroke-width="0.5"/>
<line x1="329.5" y1="236.6" x2="328.3" y2="236.6" stroke="#444" stroke-width="0.5"/>
<text x="179.9" y="239.00" font-size="5.9" text-anchor="end">0.4</text>
<line x1="183.6" y1="245.7" x2="184.79999999999998" y2="245.7" stroke="#444" stroke-width="0.5"/>
<line x1="329.5" y1="245.7" x2="328.3" y2="245.7" stroke="#444" stroke-width="0.5"/>
<text x="179.9" y="248.10" font-size="5.9" text-anchor="end">0.2</text>
<line x1="183.6" y1="254.9" x2="184.79999999999998" y2="254.9" stroke="#444" stroke-width="0.5"/>
<line x1="329.5" y1="254.9" x2="328.3" y2="254.9" stroke="#444" stroke-width="0.5"/>
<text x="179.9" y="257.30" font-size="5.9" text-anchor="end">0.0</text>
<g fill="#4690c8">
<circle cx="183.8" cy="254.8" r="1.0"/>
<circle cx="184.3" cy="249.8" r="1.0"/>
<circle cx="185.0" cy="243.8" r="1.0"/>
<circle cx="187.3" cy="240.5" r="1.0"/>
<circle cx="188.0" cy="241.3" r="1.0"/>
<circle cx="188.8" cy="242.8" r="1.0"/>
<circle cx="189.5" cy="240.5" r="1.0"/>
<circle cx="190.3" cy="241.3" r="1.0"/>
<circle cx="189.2" cy="244.3" r="1.0"/>
<circle cx="189.8" cy="245.0" r="1.0"/>
<circle cx="191.0" cy="231.2" r="1.0"/>
<circle cx="192.0" cy="227.3" r="1.0"/>
<circle cx="192.5" cy="230.8" r="1.0"/>
<circle cx="193.3" cy="249.2" r="1.0"/>
<circle cx="194.0" cy="252.2" r="1.0"/>
<circle cx="194.8" cy="245.3" r="1.0"/>
<circle cx="195.5" cy="239.0" r="1.0"/>
<circle cx="196.3" cy="241.3" r="1.0"/>
<circle cx="197.0" cy="240.5" r="1.0"/>
<circle cx="197.8" cy="242.0" r="1.0"/>
<circle cx="198.5" cy="247.3" r="1.0"/>
<circle cx="199.6" cy="245.8" r="1.0"/>
<circle cx="200.3" cy="244.7" r="1.0"/>
<circle cx="200.8" cy="247.3" r="1.0"/>
<circle cx="201.5" cy="239.0" r="1.0"/>
<circle cx="202.3" cy="235.3" r="1.0"/>
<circle cx="203.0" cy="240.2" r="1.0"/>
<circle cx="203.8" cy="246.5" r="1.0"/>
<circle cx="204.5" cy="250.3" r="1.0"/>
<circle cx="206.8" cy="249.5" r="1.0"/>
<circle cx="208.3" cy="249.5" r="1.0"/>
<circle cx="211.3" cy="251.8" r="1.0"/>
<circle cx="212.0" cy="252.5" r="1.0"/>
<circle cx="213.8" cy="248.8" r="1.0"/>
<circle cx="214.7" cy="245.8" r="1.0"/>
<circle cx="215.3" cy="243.5" r="1.0"/>
<circle cx="216.2" cy="246.5" r="1.0"/>
<circle cx="216.8" cy="250.7" r="1.0"/>
<circle cx="217.7" cy="250.3" r="1.0"/>
<circle cx="222.5" cy="245.8" r="1.0"/>
<circle cx="223.6" cy="248.8" r="1.0"/>
<circle cx="224.5" cy="254.3" r="1.0"/>
<circle cx="225.2" cy="253.7" r="1.0"/>
<circle cx="227.8" cy="243.2" r="1.0"/>
<circle cx="228.8" cy="246.2" r="1.0"/>
<circle cx="229.7" cy="249.5" r="1.0"/>
<circle cx="230.3" cy="248.8" r="1.0"/>
<circle cx="231.2" cy="247.7" r="1.0"/>
<circle cx="231.3" cy="246.2" r="1.0"/>
<circle cx="232.2" cy="252.5" r="1.0"/>
<circle cx="233.3" cy="254.0" r="1.0"/>
<circle cx="234.0" cy="248.8" r="1.0"/>
<circle cx="234.8" cy="250.3" r="1.0"/>
<circle cx="235.5" cy="251.8" r="1.0"/>
<circle cx="236.3" cy="251.0" r="1.0"/>
<circle cx="237.3" cy="243.8" r="1.0"/>
<circle cx="238.2" cy="243.2" r="1.0"/>
<circle cx="238.8" cy="244.7" r="1.0"/>
<circle cx="240.0" cy="239.8" r="1.0"/>
<circle cx="241.2" cy="242.8" r="1.0"/>
<circle cx="242.3" cy="243.8" r="1.0"/>
<circle cx="242.7" cy="251.0" r="1.0"/>
<circle cx="243.5" cy="253.7" r="1.0"/>
<circle cx="245.7" cy="249.8" r="1.0"/>
<circle cx="246.5" cy="242.8" r="1.0"/>
<circle cx="247.0" cy="232.3" r="1.0"/>
<circle cx="248.0" cy="235.7" r="1.0"/>
<circle cx="248.7" cy="242.0" r="1.0"/>
<circle cx="251.6" cy="237.8" r="1.0"/>
<circle cx="252.3" cy="235.3" r="1.0"/>
<circle cx="253.2" cy="235.7" r="1.0"/>
<circle cx="254.0" cy="236.3" r="1.0"/>
<circle cx="254.3" cy="225.8" r="1.0"/>
<circle cx="255.3" cy="224.0" r="1.0"/>
<circle cx="256.0" cy="224.8" r="1.0"/>
<circle cx="256.8" cy="233.0" r="1.0"/>
<circle cx="257.6" cy="245.8" r="1.0"/>
<circle cx="258.5" cy="249.5" r="1.0"/>
<circle cx="259.2" cy="250.7" r="1.0"/>
<circle cx="263.3" cy="252.5" r="1.0"/>
<circle cx="269.0" cy="251.8" r="1.0"/>
<circle cx="272.3" cy="242.0" r="1.0"/>
<circle cx="280.2" cy="252.0" r="1.0"/>
<circle cx="281.1" cy="250.2" r="1.0"/>
<circle cx="282.0" cy="246.7" r="1.0"/>
<circle cx="282.9" cy="247.8" r="1.0"/>
<circle cx="284.6" cy="251.3" r="1.0"/>
<circle cx="285.5" cy="250.8" r="1.0"/>
<circle cx="286.8" cy="250.2" r="1.0"/>
<circle cx="287.8" cy="254.9" r="1.0"/>
<circle cx="289.0" cy="249.9" r="1.0"/>
<circle cx="290.3" cy="251.3" r="1.0"/>
<circle cx="291.4" cy="250.2" r="1.0"/>
<circle cx="292.2" cy="251.7" r="1.0"/>
<circle cx="293.1" cy="254.3" r="1.0"/>
<circle cx="293.8" cy="254.9" r="1.0"/>
<circle cx="294.9" cy="251.7" r="1.0"/>
<circle cx="295.6" cy="248.5" r="1.0"/>
<circle cx="296.7" cy="246.7" r="1.0"/>
<circle cx="297.9" cy="245.5" r="1.0"/>
<circle cx="298.8" cy="244.9" r="1.0"/>
<circle cx="311.6" cy="227.7" r="1.0"/>
<circle cx="312.6" cy="246.0" r="1.0"/>
<circle cx="313.3" cy="246.7" r="1.0"/>
<circle cx="314.4" cy="254.9" r="1.0"/>
<circle cx="315.8" cy="255.2" r="1.0"/>
<circle cx="317.4" cy="254.9" r="1.0"/>
<circle cx="319.7" cy="249.9" r="1.0"/>
<circle cx="321.0" cy="251.7" r="1.0"/>
<circle cx="322.2" cy="253.4" r="1.0"/>
<circle cx="323.6" cy="253.1" r="1.0"/>
<circle cx="325.0" cy="254.3" r="1.0"/>
<circle cx="326.3" cy="252.6" r="1.0"/>
<circle cx="327.2" cy="250.8" r="1.0"/>
<circle cx="328.0" cy="249.5" r="1.0"/>
<circle cx="328.6" cy="254.9" r="1.0"/>
</g>
<text transform="translate(166.4,248.4) rotate(-90)" font-size="6" text-anchor="start" class="ns" ><tspan class="it">Z</tspan>-FST</text>
<rect x="249.1" y="266.3" width="14.599999999999994" height="36.89999999999998" fill="#cbcbcb"/>
<rect x="183.6" y="266.3" width="145.9" height="36.89999999999998" fill="none" stroke="#a6a6a6" stroke-width="0.7"/>
<line x1="183.6" y1="303.2" x2="329.5" y2="303.2" stroke="#666" stroke-width="0.8"/>
<line x1="183.6" y1="266.3" x2="183.6" y2="303.2" stroke="#777" stroke-width="0.7"/>
<line x1="186.6" y1="266.3" x2="186.6" y2="267.5" stroke="#444" stroke-width="0.5"/>
<line x1="186.6" y1="303.2" x2="186.6" y2="302.0" stroke="#444" stroke-width="0.5"/>
<line x1="222.6" y1="266.3" x2="222.6" y2="267.5" stroke="#444" stroke-width="0.5"/>
<line x1="222.6" y1="303.2" x2="222.6" y2="302.0" stroke="#444" stroke-width="0.5"/>
<line x1="259.3" y1="266.3" x2="259.3" y2="267.5" stroke="#444" stroke-width="0.5"/>
<line x1="259.3" y1="303.2" x2="259.3" y2="302.0" stroke="#444" stroke-width="0.5"/>
<line x1="296.4" y1="266.3" x2="296.4" y2="267.5" stroke="#444" stroke-width="0.5"/>
<line x1="296.4" y1="303.2" x2="296.4" y2="302.0" stroke="#444" stroke-width="0.5"/>
<line x1="183.6" y1="269.1" x2="184.79999999999998" y2="269.1" stroke="#444" stroke-width="0.5"/>
<line x1="329.5" y1="269.1" x2="328.3" y2="269.1" stroke="#444" stroke-width="0.5"/>
<text x="179.9" y="271.50" font-size="5.9" text-anchor="end">75</text>
<line x1="183.6" y1="280.0" x2="184.79999999999998" y2="280.0" stroke="#444" stroke-width="0.5"/>
<line x1="329.5" y1="280.0" x2="328.3" y2="280.0" stroke="#444" stroke-width="0.5"/>
<text x="179.9" y="282.40" font-size="5.9" text-anchor="end">50</text>
<line x1="183.6" y1="290.2" x2="184.79999999999998" y2="290.2" stroke="#444" stroke-width="0.5"/>
<line x1="329.5" y1="290.2" x2="328.3" y2="290.2" stroke="#444" stroke-width="0.5"/>
<text x="179.9" y="292.60" font-size="5.9" text-anchor="end">25</text>
<line x1="183.6" y1="300.2" x2="184.79999999999998" y2="300.2" stroke="#444" stroke-width="0.5"/>
<line x1="329.5" y1="300.2" x2="328.3" y2="300.2" stroke="#444" stroke-width="0.5"/>
<text x="179.9" y="302.60" font-size="5.9" text-anchor="end">0</text>
<polyline points="183.6,300 186,299.8 190,300 191,298.5 192,297.3 193,298.5 194.5,300 196.5,299.5 197.8,298.2 199,299.8 201,299.5 202.3,297.8 203.5,299.5 206,300 210,300 212,299 213.5,297.3 215,299 217,300 220,299.5 221.4,298.3 223,299.8 227,300 228.5,298.5 229.7,297.3 231,299 233,300 237,299.8 239.4,297.3 241,299.5 243,300 245,298.5 246.5,296.5 247.3,294.6 248.5,295.4 249.6,294.6 251,295.6 252.8,295 254,288 255,280 256,287 257,296 257.7,299.7 262,300 269.3,299.7 271.1,296.9 273,299.7 278,300 279.3,291 280,290.4 280.8,290.6 281.7,295 282.8,299.8 290,300 299,300 300.7,299 301.5,297.5 302.3,299 303.5,299 304.8,294 306,292.4 306.7,294 307.8,298.5 308.5,296 309.3,292 310,291 310.7,291 311.2,292 311.7,299 312.5,300 329.3,300" fill="none" stroke="#4690c8" stroke-width="1.7" stroke-linejoin="round"/>
<circle cx="309.90" cy="268.80" r="0.85" fill="#4690c8"/>
<circle cx="310.90" cy="269.50" r="0.85" fill="#4690c8"/>
<circle cx="310.11" cy="270.35" r="0.85" fill="#4690c8"/>
<circle cx="310.69" cy="271.05" r="0.85" fill="#4690c8"/>
<circle cx="310.13" cy="271.90" r="0.85" fill="#4690c8"/>
<circle cx="310.67" cy="272.60" r="0.85" fill="#4690c8"/>
<circle cx="309.94" cy="273.45" r="0.85" fill="#4690c8"/>
<circle cx="310.86" cy="274.15" r="0.85" fill="#4690c8"/>
<circle cx="309.71" cy="275.00" r="0.85" fill="#4690c8"/>
<circle cx="311.09" cy="275.70" r="0.85" fill="#4690c8"/>
<circle cx="309.66" cy="276.55" r="0.85" fill="#4690c8"/>
<circle cx="311.14" cy="277.25" r="0.85" fill="#4690c8"/>
<circle cx="309.83" cy="278.10" r="0.85" fill="#4690c8"/>
<circle cx="310.97" cy="278.80" r="0.85" fill="#4690c8"/>
<circle cx="310.06" cy="279.65" r="0.85" fill="#4690c8"/>
<circle cx="310.74" cy="280.35" r="0.85" fill="#4690c8"/>
<circle cx="310.15" cy="281.20" r="0.85" fill="#4690c8"/>
<circle cx="310.65" cy="281.90" r="0.85" fill="#4690c8"/>
<circle cx="310.00" cy="282.75" r="0.85" fill="#4690c8"/>
<circle cx="310.80" cy="283.45" r="0.85" fill="#4690c8"/>
<circle cx="309.76" cy="284.30" r="0.85" fill="#4690c8"/>
<circle cx="311.04" cy="285.00" r="0.85" fill="#4690c8"/>
<circle cx="309.65" cy="285.85" r="0.85" fill="#4690c8"/>
<circle cx="311.15" cy="286.55" r="0.85" fill="#4690c8"/>
<circle cx="309.77" cy="287.40" r="0.85" fill="#4690c8"/>
<circle cx="311.03" cy="288.10" r="0.85" fill="#4690c8"/>
<circle cx="310.01" cy="288.95" r="0.85" fill="#4690c8"/>
<circle cx="310.79" cy="289.65" r="0.85" fill="#4690c8"/>
<circle cx="310.15" cy="290.50" r="0.85" fill="#4690c8"/>
<circle cx="310.65" cy="291.20" r="0.85" fill="#4690c8"/>
<circle cx="310.06" cy="292.05" r="0.85" fill="#4690c8"/>
<circle cx="310.74" cy="292.75" r="0.85" fill="#4690c8"/>
<text transform="translate(167,293.8) rotate(-90)" font-size="5.8" text-anchor="start" class="ns" >XPCLR</text>
<text x="186.9" y="311.3" font-size="5.6" text-anchor="middle">13.5</text>
<text x="222.8" y="311.3" font-size="5.6" text-anchor="middle">14.0</text>
<text x="258.7" y="311.3" font-size="5.6" text-anchor="middle">14.5</text>
<text x="296.9" y="311.3" font-size="5.6" text-anchor="middle">15.0</text>
<text x="257.6" y="320.3" font-size="5.8" text-anchor="middle">Chr 2</text>
<rect x="283.7" y="325.8" width="21.69999999999999" height="128.0" fill="#cbcbcb"/>
<rect x="184.3" y="325.8" width="137.3" height="128.0" fill="none" stroke="#a6a6a6" stroke-width="0.7"/>
<line x1="184.3" y1="453.8" x2="321.6" y2="453.8" stroke="#666" stroke-width="0.8"/>
<line x1="184.3" y1="325.8" x2="184.3" y2="453.8" stroke="#777" stroke-width="0.7"/>
<line x1="204.9" y1="325.8" x2="204.9" y2="327.0" stroke="#444" stroke-width="0.5"/>
<line x1="204.9" y1="453.8" x2="204.9" y2="452.6" stroke="#444" stroke-width="0.5"/>
<line x1="226.8" y1="325.8" x2="226.8" y2="327.0" stroke="#444" stroke-width="0.5"/>
<line x1="226.8" y1="453.8" x2="226.8" y2="452.6" stroke="#444" stroke-width="0.5"/>
<line x1="249.0" y1="325.8" x2="249.0" y2="327.0" stroke="#444" stroke-width="0.5"/>
<line x1="249.0" y1="453.8" x2="249.0" y2="452.6" stroke="#444" stroke-width="0.5"/>
<line x1="271.2" y1="325.8" x2="271.2" y2="327.0" stroke="#444" stroke-width="0.5"/>
<line x1="271.2" y1="453.8" x2="271.2" y2="452.6" stroke="#444" stroke-width="0.5"/>
<line x1="293.6" y1="325.8" x2="293.6" y2="327.0" stroke="#444" stroke-width="0.5"/>
<line x1="293.6" y1="453.8" x2="293.6" y2="452.6" stroke="#444" stroke-width="0.5"/>
<line x1="315.3" y1="325.8" x2="315.3" y2="327.0" stroke="#444" stroke-width="0.5"/>
<line x1="315.3" y1="453.8" x2="315.3" y2="452.6" stroke="#444" stroke-width="0.5"/>
<line x1="184.3" y1="344.9" x2="185.5" y2="344.9" stroke="#444" stroke-width="0.5"/>
<line x1="321.6" y1="344.9" x2="320.40000000000003" y2="344.9" stroke="#444" stroke-width="0.5"/>
<text x="180.60000000000002" y="347.30" font-size="5.9" text-anchor="end">4.5</text>
<line x1="184.3" y1="377.4" x2="185.5" y2="377.4" stroke="#444" stroke-width="0.5"/>
<line x1="321.6" y1="377.4" x2="320.40000000000003" y2="377.4" stroke="#444" stroke-width="0.5"/>
<text x="180.60000000000002" y="379.80" font-size="5.9" text-anchor="end">3.0</text>
<line x1="184.3" y1="410.0" x2="185.5" y2="410.0" stroke="#444" stroke-width="0.5"/>
<line x1="321.6" y1="410.0" x2="320.40000000000003" y2="410.0" stroke="#444" stroke-width="0.5"/>
<text x="180.60000000000002" y="412.40" font-size="5.9" text-anchor="end">1.5</text>
<line x1="184.3" y1="443.0" x2="185.5" y2="443.0" stroke="#444" stroke-width="0.5"/>
<line x1="321.6" y1="443.0" x2="320.40000000000003" y2="443.0" stroke="#444" stroke-width="0.5"/>
<text x="180.60000000000002" y="445.40" font-size="5.9" text-anchor="end">0.0</text>
<g fill="#4690c8">
<circle cx="260.1" cy="335.8" r="0.95"/>
<circle cx="260.1" cy="343.0" r="0.95"/>
<circle cx="260.1" cy="347.5" r="0.95"/>
<circle cx="296.2" cy="358.8" r="0.95"/>
<circle cx="188.3" cy="421.3" r="0.95"/>
<circle cx="189.9" cy="421.8" r="0.95"/>
<circle cx="190.9" cy="421.3" r="0.95"/>
<circle cx="187.8" cy="423.4" r="0.95"/>
<circle cx="186.7" cy="425.0" r="0.95"/>
<circle cx="192.0" cy="417.6" r="0.95"/>
<circle cx="193.0" cy="417.1" r="0.95"/>
<circle cx="194.6" cy="415.5" r="0.95"/>
<circle cx="195.1" cy="417.6" r="0.95"/>
<circle cx="195.7" cy="418.6" r="0.95"/>
<circle cx="196.7" cy="418.1" r="0.95"/>
<circle cx="197.8" cy="417.6" r="0.95"/>
<circle cx="198.3" cy="418.6" r="0.95"/>
<circle cx="202.5" cy="417.1" r="0.95"/>
<circle cx="203.0" cy="413.9" r="0.95"/>
<circle cx="204.1" cy="413.4" r="0.95"/>
<circle cx="205.1" cy="412.9" r="0.95"/>
<circle cx="206.0" cy="411.8" r="0.95"/>
<circle cx="206.2" cy="408.1" r="0.95"/>
<circle cx="207.8" cy="418.1" r="0.95"/>
<circle cx="208.8" cy="417.6" r="0.95"/>
<circle cx="209.9" cy="417.6" r="0.95"/>
<circle cx="210.9" cy="417.1" r="0.95"/>
<circle cx="212.0" cy="416.9" r="0.95"/>
<circle cx="213.0" cy="416.5" r="0.95"/>
<circle cx="214.1" cy="416.5" r="0.95"/>
<circle cx="215.1" cy="416.5" r="0.95"/>
<circle cx="210.4" cy="421.8" r="0.95"/>
<circle cx="206.7" cy="423.9" r="0.95"/>
<circle cx="207.8" cy="424.4" r="0.95"/>
<circle cx="208.8" cy="424.6" r="0.95"/>
<circle cx="209.9" cy="425.0" r="0.95"/>
<circle cx="210.9" cy="425.0" r="0.95"/>
<circle cx="212.0" cy="425.0" r="0.95"/>
<circle cx="213.0" cy="424.7" r="0.95"/>
<circle cx="214.1" cy="424.6" r="0.95"/>
<circle cx="215.1" cy="424.4" r="0.95"/>
<circle cx="199.3" cy="426.0" r="0.95"/>
<circle cx="200.4" cy="426.3" r="0.95"/>
<circle cx="201.4" cy="426.5" r="0.95"/>
<circle cx="205.1" cy="426.5" r="0.95"/>
<circle cx="190.9" cy="428.6" r="0.95"/>
<circle cx="192.0" cy="429.2" r="0.95"/>
<circle cx="185.7" cy="429.7" r="0.95"/>
<circle cx="190.9" cy="429.2" r="0.95"/>
<circle cx="192.0" cy="429.7" r="0.95"/>
<circle cx="188.8" cy="435.5" r="0.95"/>
<circle cx="189.9" cy="435.3" r="0.95"/>
<circle cx="190.9" cy="435.0" r="0.95"/>
<circle cx="192.0" cy="434.7" r="0.95"/>
<circle cx="193.0" cy="435.5" r="0.95"/>
<circle cx="193.6" cy="436.6" r="0.95"/>
<circle cx="194.1" cy="435.0" r="0.95"/>
<circle cx="194.6" cy="433.9" r="0.95"/>
<circle cx="195.1" cy="432.9" r="0.95"/>
<circle cx="195.7" cy="432.4" r="0.95"/>
<circle cx="196.7" cy="432.1" r="0.95"/>
<circle cx="197.8" cy="432.4" r="0.95"/>
<circle cx="198.8" cy="432.6" r="0.95"/>
<circle cx="199.9" cy="432.9" r="0.95"/>
<circle cx="200.9" cy="433.2" r="0.95"/>
<circle cx="201.4" cy="432.4" r="0.95"/>
<circle cx="192.5" cy="437.6" r="0.95"/>
<circle cx="193.0" cy="438.7" r="0.95"/>
<circle cx="194.1" cy="437.1" r="0.95"/>
<circle cx="195.1" cy="436.6" r="0.95"/>
<circle cx="196.2" cy="437.4" r="0.95"/>
<circle cx="197.2" cy="437.6" r="0.95"/>
<circle cx="198.3" cy="437.8" r="0.95"/>
<circle cx="198.8" cy="426.6" r="0.95"/>
<circle cx="199.9" cy="426.6" r="0.95"/>
<circle cx="200.9" cy="426.9" r="0.95"/>
<circle cx="202.0" cy="427.1" r="0.95"/>
<circle cx="205.1" cy="426.6" r="0.95"/>
<circle cx="203.0" cy="435.0" r="0.95"/>
<circle cx="204.1" cy="433.9" r="0.95"/>
<circle cx="205.1" cy="432.9" r="0.95"/>
<circle cx="206.0" cy="431.3" r="0.95"/>
<circle cx="206.5" cy="430.0" r="0.95"/>
<circle cx="207.2" cy="429.7" r="0.95"/>
<circle cx="208.3" cy="430.8" r="0.95"/>
<circle cx="203.5" cy="438.7" r="0.95"/>
<circle cx="204.1" cy="441.8" r="0.95"/>
<circle cx="205.6" cy="439.2" r="0.95"/>
<circle cx="206.2" cy="442.3" r="0.95"/>
<circle cx="188.8" cy="442.3" r="0.95"/>
<circle cx="193.6" cy="442.9" r="0.95"/>
<circle cx="194.4" cy="443.1" r="0.95"/>
<circle cx="208.8" cy="426.1" r="0.95"/>
<circle cx="210.4" cy="425.5" r="0.95"/>
<circle cx="212.5" cy="425.5" r="0.95"/>
<circle cx="213.5" cy="425.0" r="0.95"/>
<circle cx="215.6" cy="435.0" r="0.95"/>
<circle cx="216.7" cy="432.9" r="0.95"/>
<circle cx="215.0" cy="417.1" r="0.95"/>
<circle cx="219.7" cy="422.9" r="0.95"/>
<circle cx="220.8" cy="421.3" r="0.95"/>
<circle cx="221.3" cy="420.2" r="0.95"/>
<circle cx="222.4" cy="418.6" r="0.95"/>
<circle cx="222.9" cy="417.6" r="0.95"/>
<circle cx="223.9" cy="416.5" r="0.95"/>
<circle cx="225.0" cy="417.1" r="0.95"/>
<circle cx="223.4" cy="415.5" r="0.95"/>
<circle cx="224.5" cy="419.2" r="0.95"/>
<circle cx="219.7" cy="418.6" r="0.95"/>
<circle cx="221.8" cy="423.2" r="0.95"/>
<circle cx="232.3" cy="399.7" r="0.95"/>
<circle cx="233.4" cy="399.7" r="0.95"/>
<circle cx="230.8" cy="402.9" r="0.95"/>
<circle cx="231.8" cy="404.5" r="0.95"/>
<circle cx="231.3" cy="406.0" r="0.95"/>
<circle cx="234.4" cy="402.9" r="0.95"/>
<circle cx="232.3" cy="408.7" r="0.95"/>
<circle cx="232.9" cy="410.8" r="0.95"/>
<circle cx="233.4" cy="411.8" r="0.95"/>
<circle cx="231.8" cy="401.3" r="0.95"/>
<circle cx="233.9" cy="400.8" r="0.95"/>
<circle cx="233.9" cy="415.5" r="0.95"/>
<circle cx="235.0" cy="416.0" r="0.95"/>
<circle cx="236.0" cy="415.8" r="0.95"/>
<circle cx="237.1" cy="415.5" r="0.95"/>
<circle cx="232.3" cy="417.6" r="0.95"/>
<circle cx="236.5" cy="408.1" r="0.95"/>
<circle cx="237.6" cy="408.7" r="0.95"/>
<circle cx="239.2" cy="408.1" r="0.95"/>
<circle cx="238.6" cy="407.6" r="0.95"/>
<circle cx="241.3" cy="401.3" r="0.95"/>
<circle cx="245.5" cy="408.1" r="0.95"/>
<circle cx="243.4" cy="411.8" r="0.95"/>
<circle cx="244.4" cy="412.3" r="0.95"/>
<circle cx="245.5" cy="413.4" r="0.95"/>
<circle cx="246.0" cy="414.4" r="0.95"/>
<circle cx="246.5" cy="415.5" r="0.95"/>
<circle cx="247.1" cy="417.1" r="0.95"/>
<circle cx="246.5" cy="418.6" r="0.95"/>
<circle cx="245.5" cy="417.6" r="0.95"/>
<circle cx="248.6" cy="411.8" r="0.95"/>
<circle cx="249.2" cy="410.2" r="0.95"/>
<circle cx="249.7" cy="403.9" r="0.95"/>
<circle cx="248.6" cy="416.0" r="0.95"/>
<circle cx="225.5" cy="425.5" r="0.95"/>
<circle cx="226.6" cy="426.0" r="0.95"/>
<circle cx="227.6" cy="426.5" r="0.95"/>
<circle cx="228.7" cy="427.1" r="0.95"/>
<circle cx="229.7" cy="426.0" r="0.95"/>
<circle cx="230.8" cy="425.5" r="0.95"/>
<circle cx="231.8" cy="426.0" r="0.95"/>
<circle cx="232.9" cy="425.0" r="0.95"/>
<circle cx="233.9" cy="423.4" r="0.95"/>
<circle cx="235.0" cy="423.9" r="0.95"/>
<circle cx="236.0" cy="426.5" r="0.95"/>
<circle cx="239.2" cy="423.9" r="0.95"/>
<circle cx="230.2" cy="428.6" r="0.95"/>
<circle cx="231.3" cy="429.2" r="0.95"/>
<circle cx="229.2" cy="428.6" r="0.95"/>
<circle cx="244.4" cy="427.1" r="0.95"/>
<circle cx="245.5" cy="427.6" r="0.95"/>
<circle cx="246.5" cy="428.1" r="0.95"/>
<circle cx="247.6" cy="426.5" r="0.95"/>
<circle cx="248.6" cy="423.4" r="0.95"/>
<circle cx="249.7" cy="424.4" r="0.95"/>
<circle cx="219.7" cy="429.7" r="0.95"/>
<circle cx="215.5" cy="426.5" r="0.95"/>
<circle cx="215.5" cy="435.5" r="0.95"/>
<circle cx="216.6" cy="432.9" r="0.95"/>
<circle cx="217.6" cy="432.4" r="0.95"/>
<circle cx="218.7" cy="432.4" r="0.95"/>
<circle cx="219.7" cy="431.3" r="0.95"/>
<circle cx="220.8" cy="430.3" r="0.95"/>
<circle cx="221.8" cy="429.7" r="0.95"/>
<circle cx="222.9" cy="429.2" r="0.95"/>
<circle cx="223.9" cy="428.7" r="0.95"/>
<circle cx="219.2" cy="435.5" r="0.95"/>
<circle cx="223.9" cy="438.7" r="0.95"/>
<circle cx="227.6" cy="426.1" r="0.95"/>
<circle cx="228.7" cy="427.1" r="0.95"/>
<circle cx="229.7" cy="428.2" r="0.95"/>
<circle cx="230.8" cy="429.2" r="0.95"/>
<circle cx="231.3" cy="430.8" r="0.95"/>
<circle cx="230.8" cy="431.8" r="0.95"/>
<circle cx="231.8" cy="432.4" r="0.95"/>
<circle cx="233.4" cy="431.3" r="0.95"/>
<circle cx="234.4" cy="432.9" r="0.95"/>
<circle cx="235.5" cy="433.4" r="0.95"/>
<circle cx="236.5" cy="434.5" r="0.95"/>
<circle cx="237.6" cy="435.5" r="0.95"/>
<circle cx="238.6" cy="433.9" r="0.95"/>
<circle cx="236.0" cy="431.3" r="0.95"/>
<circle cx="234.4" cy="429.7" r="0.95"/>
<circle cx="232.9" cy="428.2" r="0.95"/>
<circle cx="233.9" cy="426.6" r="0.95"/>
<circle cx="236.0" cy="426.1" r="0.95"/>
<circle cx="228.7" cy="430.8" r="0.95"/>
<circle cx="229.7" cy="429.7" r="0.95"/>
<circle cx="237.6" cy="436.6" r="0.95"/>
<circle cx="232.3" cy="426.1" r="0.95"/>
<circle cx="235.0" cy="428.2" r="0.95"/>
<circle cx="237.1" cy="429.2" r="0.95"/>
<circle cx="239.2" cy="432.4" r="0.95"/>
<circle cx="228.7" cy="440.2" r="0.95"/>
<circle cx="228.7" cy="441.8" r="0.95"/>
<circle cx="231.3" cy="441.8" r="0.95"/>
<circle cx="231.8" cy="443.4" r="0.95"/>
<circle cx="240.2" cy="442.9" r="0.95"/>
<circle cx="241.3" cy="441.3" r="0.95"/>
<circle cx="242.3" cy="440.8" r="0.95"/>
<circle cx="243.4" cy="428.2" r="0.95"/>
<circle cx="244.4" cy="429.2" r="0.95"/>
<circle cx="245.5" cy="427.6" r="0.95"/>
<circle cx="246.5" cy="429.7" r="0.95"/>
<circle cx="247.6" cy="431.3" r="0.95"/>
<circle cx="248.6" cy="430.3" r="0.95"/>
<circle cx="249.7" cy="428.7" r="0.95"/>
<circle cx="243.9" cy="433.4" r="0.95"/>
<circle cx="245.0" cy="434.5" r="0.95"/>
<circle cx="246.0" cy="435.5" r="0.95"/>
<circle cx="247.1" cy="436.6" r="0.95"/>
<circle cx="248.1" cy="435.0" r="0.95"/>
<circle cx="249.2" cy="433.4" r="0.95"/>
<circle cx="242.9" cy="435.5" r="0.95"/>
<circle cx="248.6" cy="439.7" r="0.95"/>
<circle cx="261.7" cy="373.6" r="0.95"/>
<circle cx="257.5" cy="379.9" r="0.95"/>
<circle cx="265.9" cy="382.0" r="0.95"/>
<circle cx="258.0" cy="385.0" r="0.95"/>
<circle cx="257.5" cy="386.0" r="0.95"/>
<circle cx="255.9" cy="386.9" r="0.95"/>
<circle cx="258.0" cy="387.6" r="0.95"/>
<circle cx="257.5" cy="389.0" r="0.95"/>
<circle cx="255.4" cy="389.7" r="0.95"/>
<circle cx="254.8" cy="390.2" r="0.95"/>
<circle cx="265.9" cy="389.0" r="0.95"/>
<circle cx="258.5" cy="392.5" r="0.95"/>
<circle cx="255.9" cy="393.6" r="0.95"/>
<circle cx="260.6" cy="392.9" r="0.95"/>
<circle cx="260.4" cy="395.0" r="0.95"/>
<circle cx="266.4" cy="393.4" r="0.95"/>
<circle cx="263.6" cy="395.5" r="0.95"/>
<circle cx="254.8" cy="396.5" r="0.95"/>
<circle cx="254.3" cy="398.1" r="0.95"/>
<circle cx="258.0" cy="397.6" r="0.95"/>
<circle cx="259.0" cy="398.6" r="0.95"/>
<circle cx="260.1" cy="399.2" r="0.95"/>
<circle cx="264.8" cy="398.4" r="0.95"/>
<circle cx="265.3" cy="399.7" r="0.95"/>
<circle cx="254.8" cy="397.1" r="0.95"/>
<circle cx="254.3" cy="398.2" r="0.95"/>
<circle cx="258.0" cy="397.6" r="0.95"/>
<circle cx="259.0" cy="398.7" r="0.95"/>
<circle cx="260.1" cy="399.2" r="0.95"/>
<circle cx="263.8" cy="395.5" r="0.95"/>
<circle cx="264.8" cy="398.7" r="0.95"/>
<circle cx="265.3" cy="400.3" r="0.95"/>
<circle cx="263.8" cy="403.4" r="0.95"/>
<circle cx="263.2" cy="405.0" r="0.95"/>
<circle cx="255.9" cy="402.9" r="0.95"/>
<circle cx="258.5" cy="401.8" r="0.95"/>
<circle cx="259.6" cy="403.4" r="0.95"/>
<circle cx="260.6" cy="404.5" r="0.95"/>
<circle cx="261.7" cy="405.5" r="0.95"/>
<circle cx="262.7" cy="406.0" r="0.95"/>
<circle cx="264.8" cy="405.5" r="0.95"/>
<circle cx="265.9" cy="406.0" r="0.95"/>
<circle cx="261.1" cy="402.9" r="0.95"/>
<circle cx="262.2" cy="402.4" r="0.95"/>
<circle cx="267.4" cy="402.9" r="0.95"/>
<circle cx="268.0" cy="402.4" r="0.95"/>
<circle cx="249.6" cy="403.9" r="0.95"/>
<circle cx="249.1" cy="408.7" r="0.95"/>
<circle cx="248.5" cy="411.3" r="0.95"/>
<circle cx="249.1" cy="412.9" r="0.95"/>
<circle cx="248.5" cy="414.4" r="0.95"/>
<circle cx="255.4" cy="408.1" r="0.95"/>
<circle cx="256.4" cy="408.7" r="0.95"/>
<circle cx="258.0" cy="409.7" r="0.95"/>
<circle cx="259.0" cy="410.8" r="0.95"/>
<circle cx="260.1" cy="411.8" r="0.95"/>
<circle cx="261.1" cy="412.3" r="0.95"/>
<circle cx="267.4" cy="408.7" r="0.95"/>
<circle cx="256.9" cy="413.4" r="0.95"/>
<circle cx="256.9" cy="416.0" r="0.95"/>
<circle cx="260.1" cy="415.0" r="0.95"/>
<circle cx="261.1" cy="416.0" r="0.95"/>
<circle cx="262.2" cy="413.4" r="0.95"/>
<circle cx="263.2" cy="416.5" r="0.95"/>
<circle cx="263.8" cy="417.6" r="0.95"/>
<circle cx="264.8" cy="419.2" r="0.95"/>
<circle cx="266.9" cy="411.8" r="0.95"/>
<circle cx="268.0" cy="414.4" r="0.95"/>
<circle cx="269.0" cy="414.4" r="0.95"/>
<circle cx="254.3" cy="420.8" r="0.95"/>
<circle cx="268.0" cy="422.3" r="0.95"/>
<circle cx="269.0" cy="422.5" r="0.95"/>
<circle cx="272.2" cy="422.3" r="0.95"/>
<circle cx="276.9" cy="422.9" r="0.95"/>
<circle cx="278.5" cy="412.3" r="0.95"/>
<circle cx="279.5" cy="413.4" r="0.95"/>
<circle cx="278.5" cy="417.1" r="0.95"/>
<circle cx="280.1" cy="420.2" r="0.95"/>
<circle cx="281.1" cy="419.7" r="0.95"/>
<circle cx="282.2" cy="419.2" r="0.95"/>
<circle cx="281.6" cy="421.3" r="0.95"/>
<circle cx="280.6" cy="424.4" r="0.95"/>
<circle cx="281.6" cy="406.0" r="0.95"/>
<circle cx="248.5" cy="422.9" r="0.95"/>
<circle cx="249.1" cy="424.4" r="0.95"/>
<circle cx="248.5" cy="426.5" r="0.95"/>
<circle cx="249.3" cy="428.1" r="0.95"/>
<circle cx="248.5" cy="429.7" r="0.95"/>
<circle cx="252.7" cy="425.5" r="0.95"/>
<circle cx="252.7" cy="427.1" r="0.95"/>
<circle cx="268.0" cy="428.6" r="0.95"/>
<circle cx="270.1" cy="428.6" r="0.95"/>
<circle cx="278.0" cy="428.6" r="0.95"/>
<circle cx="248.5" cy="426.1" r="0.95"/>
<circle cx="249.1" cy="427.6" r="0.95"/>
<circle cx="248.5" cy="429.7" r="0.95"/>
<circle cx="249.3" cy="431.3" r="0.95"/>
<circle cx="248.5" cy="433.4" r="0.95"/>
<circle cx="248.8" cy="435.5" r="0.95"/>
<circle cx="252.2" cy="425.5" r="0.95"/>
<circle cx="252.7" cy="427.1" r="0.95"/>
<circle cx="253.3" cy="435.5" r="0.95"/>
<circle cx="254.3" cy="435.5" r="0.95"/>
<circle cx="250.1" cy="440.6" r="0.95"/>
<circle cx="251.7" cy="440.6" r="0.95"/>
<circle cx="252.7" cy="440.6" r="0.95"/>
<circle cx="267.4" cy="429.2" r="0.95"/>
<circle cx="268.5" cy="429.0" r="0.95"/>
<circle cx="270.1" cy="429.0" r="0.95"/>
<circle cx="271.6" cy="433.2" r="0.95"/>
<circle cx="278.0" cy="428.7" r="0.95"/>
<circle cx="280.1" cy="425.0" r="0.95"/>
<circle cx="281.6" cy="432.9" r="0.95"/>
<circle cx="282.2" cy="436.6" r="0.95"/>
<circle cx="281.6" cy="435.5" r="0.95"/>
<circle cx="296.0" cy="359.7" r="0.95"/>
<circle cx="295.8" cy="363.5" r="0.95"/>
<circle cx="296.8" cy="364.7" r="0.95"/>
<circle cx="298.4" cy="365.2" r="0.95"/>
<circle cx="299.4" cy="365.8" r="0.95"/>
<circle cx="297.9" cy="366.8" r="0.95"/>
<circle cx="298.4" cy="368.9" r="0.95"/>
<circle cx="297.3" cy="367.9" r="0.95"/>
<circle cx="294.7" cy="370.0" r="0.95"/>
<circle cx="294.2" cy="371.0" r="0.95"/>
<circle cx="294.7" cy="372.1" r="0.95"/>
<circle cx="296.3" cy="370.5" r="0.95"/>
<circle cx="296.8" cy="372.1" r="0.95"/>
<circle cx="297.9" cy="373.1" r="0.95"/>
<circle cx="298.4" cy="374.7" r="0.95"/>
<circle cx="300.0" cy="374.2" r="0.95"/>
<circle cx="300.5" cy="373.6" r="0.95"/>
<circle cx="294.7" cy="378.4" r="0.95"/>
<circle cx="295.8" cy="378.9" r="0.95"/>
<circle cx="295.2" cy="380.0" r="0.95"/>
<circle cx="298.4" cy="378.2" r="0.95"/>
<circle cx="295.8" cy="381.5" r="0.95"/>
<circle cx="294.7" cy="383.6" r="0.95"/>
<circle cx="299.4" cy="383.6" r="0.95"/>
<circle cx="310.3" cy="376.1" r="0.95"/>
<circle cx="310.5" cy="382.1" r="0.95"/>
<circle cx="310.0" cy="383.1" r="0.95"/>
<circle cx="295.8" cy="380.5" r="0.95"/>
<circle cx="295.2" cy="382.6" r="0.95"/>
<circle cx="294.7" cy="384.7" r="0.95"/>
<circle cx="295.8" cy="386.3" r="0.95"/>
<circle cx="294.2" cy="386.8" r="0.95"/>
<circle cx="299.4" cy="383.7" r="0.95"/>
<circle cx="300.0" cy="385.3" r="0.95"/>
<circle cx="298.9" cy="387.4" r="0.95"/>
<circle cx="303.6" cy="385.8" r="0.95"/>
<circle cx="304.2" cy="387.9" r="0.95"/>
<circle cx="305.2" cy="390.0" r="0.95"/>
<circle cx="303.6" cy="391.6" r="0.95"/>
<circle cx="302.1" cy="393.1" r="0.95"/>
<circle cx="300.5" cy="391.6" r="0.95"/>
<circle cx="297.9" cy="390.0" r="0.95"/>
<circle cx="295.8" cy="390.5" r="0.95"/>
<circle cx="294.2" cy="393.7" r="0.95"/>
<circle cx="293.1" cy="396.3" r="0.95"/>
<circle cx="294.7" cy="396.8" r="0.95"/>
<circle cx="296.3" cy="395.8" r="0.95"/>
<circle cx="297.9" cy="394.7" r="0.95"/>
<circle cx="298.9" cy="396.8" r="0.95"/>
<circle cx="300.0" cy="397.9" r="0.95"/>
<circle cx="301.0" cy="398.9" r="0.95"/>
<circle cx="300.5" cy="400.5" r="0.95"/>
<circle cx="299.4" cy="402.1" r="0.95"/>
<circle cx="297.9" cy="401.0" r="0.95"/>
<circle cx="296.8" cy="399.4" r="0.95"/>
<circle cx="295.2" cy="400.5" r="0.95"/>
<circle cx="294.7" cy="402.6" r="0.95"/>
<circle cx="294.2" cy="404.7" r="0.95"/>
<circle cx="295.8" cy="406.3" r="0.95"/>
<circle cx="297.3" cy="405.8" r="0.95"/>
<circle cx="298.9" cy="403.6" r="0.95"/>
<circle cx="301.0" cy="403.6" r="0.95"/>
<circle cx="302.6" cy="404.2" r="0.95"/>
<circle cx="304.7" cy="402.6" r="0.95"/>
<circle cx="305.2" cy="396.8" r="0.95"/>
<circle cx="305.8" cy="398.4" r="0.95"/>
<circle cx="304.2" cy="395.8" r="0.95"/>
<circle cx="302.1" cy="396.8" r="0.95"/>
<circle cx="299.4" cy="406.3" r="0.95"/>
<circle cx="298.4" cy="407.9" r="0.95"/>
<circle cx="296.8" cy="409.4" r="0.95"/>
<circle cx="298.9" cy="410.0" r="0.95"/>
<circle cx="301.0" cy="410.5" r="0.95"/>
<circle cx="300.5" cy="411.5" r="0.95"/>
<circle cx="298.4" cy="412.1" r="0.95"/>
<circle cx="297.3" cy="413.1" r="0.95"/>
<circle cx="292.6" cy="410.0" r="0.95"/>
<circle cx="290.5" cy="410.5" r="0.95"/>
<circle cx="288.9" cy="409.4" r="0.95"/>
<circle cx="288.4" cy="411.5" r="0.95"/>
<circle cx="290.0" cy="412.6" r="0.95"/>
<circle cx="291.0" cy="414.2" r="0.95"/>
<circle cx="289.5" cy="404.2" r="0.95"/>
<circle cx="290.5" cy="404.7" r="0.95"/>
<circle cx="288.9" cy="389.5" r="0.95"/>
<circle cx="292.6" cy="408.4" r="0.95"/>
<circle cx="281.1" cy="406.3" r="0.95"/>
<circle cx="310.5" cy="382.1" r="0.95"/>
<circle cx="310.0" cy="383.7" r="0.95"/>
<circle cx="308.4" cy="385.8" r="0.95"/>
<circle cx="307.9" cy="386.8" r="0.95"/>
<circle cx="310.5" cy="388.9" r="0.95"/>
<circle cx="311.0" cy="390.5" r="0.95"/>
<circle cx="310.0" cy="392.6" r="0.95"/>
<circle cx="310.5" cy="393.7" r="0.95"/>
<circle cx="308.4" cy="396.8" r="0.95"/>
<circle cx="308.9" cy="398.9" r="0.95"/>
<circle cx="309.4" cy="400.5" r="0.95"/>
<circle cx="308.4" cy="404.7" r="0.95"/>
<circle cx="307.9" cy="406.3" r="0.95"/>
<circle cx="308.9" cy="407.9" r="0.95"/>
<circle cx="310.5" cy="410.0" r="0.95"/>
<circle cx="311.5" cy="411.5" r="0.95"/>
<circle cx="312.6" cy="413.1" r="0.95"/>
<circle cx="313.6" cy="411.5" r="0.95"/>
<circle cx="314.7" cy="410.5" r="0.95"/>
<circle cx="310.0" cy="413.6" r="0.95"/>
<circle cx="296.8" cy="392.6" r="0.95"/>
<circle cx="301.5" cy="394.7" r="0.95"/>
<circle cx="303.1" cy="398.9" r="0.95"/>
<circle cx="292.6" cy="401.0" r="0.95"/>
<circle cx="291.6" cy="406.3" r="0.95"/>
<circle cx="302.6" cy="408.4" r="0.95"/>
<circle cx="304.2" cy="411.5" r="0.95"/>
<circle cx="294.7" cy="411.5" r="0.95"/>
<circle cx="286.3" cy="411.5" r="0.95"/>
<circle cx="287.4" cy="413.6" r="0.95"/>
<circle cx="280.5" cy="414.2" r="0.95"/>
<circle cx="281.1" cy="419.5" r="0.95"/>
<circle cx="282.1" cy="420.5" r="0.95"/>
<circle cx="283.2" cy="421.0" r="0.95"/>
<circle cx="281.6" cy="422.1" r="0.95"/>
<circle cx="280.5" cy="424.2" r="0.95"/>
<circle cx="284.7" cy="423.7" r="0.95"/>
<circle cx="282.1" cy="432.1" r="0.95"/>
<circle cx="283.2" cy="431.5" r="0.95"/>
<circle cx="284.2" cy="431.0" r="0.95"/>
<circle cx="282.1" cy="436.8" r="0.95"/>
<circle cx="287.9" cy="411.6" r="0.95"/>
<circle cx="288.9" cy="411.1" r="0.95"/>
<circle cx="290.5" cy="411.6" r="0.95"/>
<circle cx="292.6" cy="410.0" r="0.95"/>
<circle cx="290.0" cy="414.7" r="0.95"/>
<circle cx="291.0" cy="415.3" r="0.95"/>
<circle cx="293.1" cy="417.9" r="0.95"/>
<circle cx="290.0" cy="419.5" r="0.95"/>
<circle cx="294.7" cy="421.0" r="0.95"/>
<circle cx="295.8" cy="415.8" r="0.95"/>
<circle cx="297.3" cy="414.7" r="0.95"/>
<circle cx="298.4" cy="416.3" r="0.95"/>
<circle cx="299.4" cy="417.9" r="0.95"/>
<circle cx="300.5" cy="415.3" r="0.95"/>
<circle cx="301.5" cy="418.9" r="0.95"/>
<circle cx="302.6" cy="417.4" r="0.95"/>
<circle cx="303.6" cy="416.3" r="0.95"/>
<circle cx="304.7" cy="415.3" r="0.95"/>
<circle cx="305.8" cy="414.7" r="0.95"/>
<circle cx="301.0" cy="421.0" r="0.95"/>
<circle cx="302.1" cy="422.1" r="0.95"/>
<circle cx="297.9" cy="418.9" r="0.95"/>
<circle cx="300.0" cy="420.0" r="0.95"/>
<circle cx="289.5" cy="425.2" r="0.95"/>
<circle cx="291.6" cy="424.7" r="0.95"/>
<circle cx="296.3" cy="430.0" r="0.95"/>
<circle cx="297.3" cy="430.5" r="0.95"/>
<circle cx="298.9" cy="431.5" r="0.95"/>
<circle cx="294.7" cy="432.6" r="0.95"/>
<circle cx="295.8" cy="433.1" r="0.95"/>
<circle cx="302.6" cy="432.6" r="0.95"/>
<circle cx="303.6" cy="432.1" r="0.95"/>
<circle cx="304.7" cy="431.5" r="0.95"/>
<circle cx="305.8" cy="431.0" r="0.95"/>
<circle cx="300.0" cy="435.2" r="0.95"/>
<circle cx="301.0" cy="435.8" r="0.95"/>
<circle cx="287.9" cy="436.3" r="0.95"/>
<circle cx="286.3" cy="440.0" r="0.95"/>
<circle cx="287.9" cy="441.0" r="0.95"/>
<circle cx="296.3" cy="441.5" r="0.95"/>
<circle cx="297.9" cy="441.5" r="0.95"/>
<circle cx="299.4" cy="441.3" r="0.95"/>
<circle cx="306.8" cy="423.1" r="0.95"/>
<circle cx="307.9" cy="423.7" r="0.95"/>
<circle cx="308.9" cy="422.6" r="0.95"/>
<circle cx="310.0" cy="422.1" r="0.95"/>
<circle cx="311.0" cy="421.6" r="0.95"/>
<circle cx="310.5" cy="423.7" r="0.95"/>
<circle cx="308.4" cy="412.1" r="0.95"/>
<circle cx="310.5" cy="411.1" r="0.95"/>
<circle cx="312.6" cy="410.5" r="0.95"/>
<circle cx="308.9" cy="414.7" r="0.95"/>
<circle cx="310.5" cy="414.2" r="0.95"/>
<circle cx="307.9" cy="417.4" r="0.95"/>
<circle cx="309.0" cy="400.0" r="0.95"/>
<circle cx="315.8" cy="403.0" r="0.95"/>
<circle cx="319.9" cy="404.1" r="0.95"/>
<circle cx="320.3" cy="406.8" r="0.95"/>
<circle cx="308.6" cy="404.5" r="0.95"/>
<circle cx="307.5" cy="405.6" r="0.95"/>
<circle cx="307.9" cy="407.9" r="0.95"/>
<circle cx="309.8" cy="410.9" r="0.95"/>
<circle cx="312.0" cy="409.8" r="0.95"/>
<circle cx="313.5" cy="412.0" r="0.95"/>
<circle cx="314.6" cy="412.4" r="0.95"/>
<circle cx="314.3" cy="413.1" r="0.95"/>
<circle cx="309.4" cy="413.9" r="0.95"/>
<circle cx="309.0" cy="414.6" r="0.95"/>
<circle cx="320.3" cy="414.6" r="0.95"/>
<circle cx="307.5" cy="416.9" r="0.95"/>
<circle cx="315.4" cy="418.0" r="0.95"/>
<circle cx="316.9" cy="421.0" r="0.95"/>
<circle cx="306.8" cy="423.3" r="0.95"/>
<circle cx="308.3" cy="423.6" r="0.95"/>
<circle cx="309.8" cy="422.5" r="0.95"/>
<circle cx="310.9" cy="422.1" r="0.95"/>
<circle cx="310.5" cy="424.0" r="0.95"/>
<circle cx="313.9" cy="423.3" r="0.95"/>
<circle cx="316.1" cy="424.8" r="0.95"/>
<circle cx="317.3" cy="424.4" r="0.95"/>
<circle cx="318.4" cy="424.8" r="0.95"/>
<circle cx="319.5" cy="425.2" r="0.95"/>
<circle cx="320.3" cy="425.5" r="0.95"/>
<circle cx="315.4" cy="426.3" r="0.95"/>
<circle cx="314.6" cy="427.4" r="0.95"/>
<circle cx="313.5" cy="428.2" r="0.95"/>
<circle cx="312.4" cy="428.5" r="0.95"/>
<circle cx="311.3" cy="428.9" r="0.95"/>
<circle cx="310.9" cy="430.0" r="0.95"/>
<circle cx="319.1" cy="428.9" r="0.95"/>
<circle cx="316.9" cy="430.8" r="0.95"/>
<circle cx="310.9" cy="431.5" r="0.95"/>
<circle cx="320.3" cy="432.3" r="0.95"/>
<circle cx="319.9" cy="434.5" r="0.95"/>
<circle cx="313.9" cy="433.0" r="0.95"/>
<circle cx="308.6" cy="434.2" r="0.95"/>
<circle cx="315.8" cy="434.9" r="0.95"/>
<circle cx="310.1" cy="436.8" r="0.95"/>
<circle cx="311.3" cy="439.0" r="0.95"/>
<circle cx="312.4" cy="439.8" r="0.95"/>
<circle cx="313.5" cy="438.7" r="0.95"/>
<circle cx="314.3" cy="440.9" r="0.95"/>
<circle cx="315.4" cy="441.3" r="0.95"/>
<circle cx="316.1" cy="442.8" r="0.95"/>
<circle cx="320.6" cy="439.8" r="0.95"/>
<circle cx="310.9" cy="440.5" r="0.95"/>
<circle cx="303.4" cy="431.5" r="0.95"/>
<circle cx="304.5" cy="430.8" r="0.95"/>
<circle cx="305.6" cy="430.8" r="0.95"/>
<circle cx="300.4" cy="441.3" r="0.95"/>
<circle cx="310.1" cy="376.0" r="0.95"/>
<circle cx="310.9" cy="382.0" r="0.95"/>
<circle cx="310.5" cy="383.2" r="0.95"/>
<circle cx="310.1" cy="383.9" r="0.95"/>
<circle cx="308.1" cy="385.8" r="0.95"/>
<circle cx="310.9" cy="388.8" r="0.95"/>
<circle cx="310.5" cy="389.9" r="0.95"/>
<circle cx="310.5" cy="392.9" r="0.95"/>
<circle cx="310.9" cy="394.0" r="0.95"/>
<circle cx="308.6" cy="397.0" r="0.95"/>
<circle cx="309.0" cy="399.3" r="0.95"/>
<circle cx="315.8" cy="402.7" r="0.95"/>
<circle cx="319.9" cy="403.8" r="0.95"/>
<circle cx="309.0" cy="403.8" r="0.95"/>
<circle cx="300.4" cy="365.5" r="0.95"/>
<circle cx="300.4" cy="374.1" r="0.95"/>
<circle cx="300.4" cy="383.5" r="0.95"/>
<circle cx="303.4" cy="385.8" r="0.95"/>
<circle cx="305.3" cy="389.9" r="0.95"/>
<circle cx="304.5" cy="391.0" r="0.95"/>
<circle cx="301.9" cy="393.3" r="0.95"/>
<circle cx="305.3" cy="396.7" r="0.95"/>
<circle cx="185.7" cy="387.1" r="0.95"/>
<circle cx="185.7" cy="392.5" r="0.95"/>
<circle cx="185.7" cy="393.9" r="0.95"/>
<circle cx="185.7" cy="395.5" r="0.95"/>
<circle cx="185.2" cy="399.7" r="0.95"/>
<circle cx="185.8" cy="430.2" r="0.95"/>
<circle cx="186.2" cy="438.6" r="0.95"/>
<circle cx="186.1" cy="437.7" r="0.95"/>
<circle cx="184.6" cy="418.6" r="0.95"/>
<circle cx="186.5" cy="426.3" r="0.95"/>
<circle cx="186.4" cy="403.8" r="0.95"/>
<circle cx="185.5" cy="409.4" r="0.95"/>
<circle cx="185.6" cy="423.1" r="0.95"/>
<circle cx="184.5" cy="408.1" r="0.95"/>
<circle cx="185.1" cy="437.5" r="0.95"/>
<circle cx="186.1" cy="405.7" r="0.95"/>
<circle cx="186.2" cy="404.8" r="0.95"/>
<circle cx="185.8" cy="404.3" r="0.95"/>
<circle cx="184.5" cy="435.6" r="0.95"/>
<circle cx="184.9" cy="408.1" r="0.95"/>
<circle cx="186.6" cy="435.6" r="0.95"/>
<circle cx="185.1" cy="439.4" r="0.95"/>
<circle cx="185.6" cy="427.5" r="0.95"/>
<circle cx="184.9" cy="438.5" r="0.95"/>
<circle cx="186.0" cy="439.6" r="0.95"/>
<circle cx="186.4" cy="411.5" r="0.95"/>
<circle cx="185.3" cy="406.0" r="0.95"/>
<circle cx="184.8" cy="401.7" r="0.95"/>
<circle cx="185.1" cy="424.3" r="0.95"/>
<circle cx="184.5" cy="427.5" r="0.95"/>
<circle cx="185.2" cy="412.0" r="0.95"/>
<circle cx="186.2" cy="419.2" r="0.95"/>
<circle cx="185.2" cy="419.2" r="0.95"/>
<circle cx="186.0" cy="401.4" r="0.95"/>
<circle cx="186.5" cy="400.0" r="0.95"/>
<circle cx="186.1" cy="434.5" r="0.95"/>
<circle cx="184.5" cy="432.1" r="0.95"/>
<circle cx="185.3" cy="423.3" r="0.95"/>
<circle cx="184.5" cy="401.0" r="0.95"/>
<circle cx="184.9" cy="439.1" r="0.95"/>
<circle cx="184.9" cy="430.7" r="0.95"/>
<circle cx="186.5" cy="438.6" r="0.95"/>
<circle cx="185.2" cy="413.9" r="0.95"/>
<circle cx="185.6" cy="431.6" r="0.95"/>
<circle cx="184.7" cy="430.4" r="0.95"/>
</g>
<text x="288.6" y="324.1" font-size="5.6" class="it red">TTG1</text>
<text transform="translate(167.4,394.6) rotate(-90)" font-size="6" text-anchor="start" class="ns" >iHS</text>
<text x="204.9" y="461.2" font-size="5.6" text-anchor="middle">29.0</text>
<text x="226.8" y="461.2" font-size="5.6" text-anchor="middle">29.2</text>
<text x="249.0" y="461.2" font-size="5.6" text-anchor="middle">29.4</text>
<text x="271.2" y="461.2" font-size="5.6" text-anchor="middle">29.6</text>
<text x="293.6" y="461.2" font-size="5.6" text-anchor="middle">29.8</text>
<text x="315.3" y="461.2" font-size="5.6" text-anchor="middle">30.0</text>
<text x="327.5" y="461.2" font-size="5.6" text-anchor="middle">(Mb)</text>
<text x="257" y="471.2" font-size="5.8" text-anchor="middle">Chr 2</text>
</g>
<g shape-rendering="crispEdges">
<rect x="86.20" y="496.50" width="147.63" height="6.57" fill="#9c4848"/>
<rect x="233.53" y="496.50" width="37.13" height="6.57" fill="#a0beac"/>
<rect x="270.37" y="496.50" width="6.44" height="6.57" fill="#9c4848"/>
<rect x="276.51" y="496.50" width="30.99" height="6.57" fill="#a0beac"/>
<rect x="86.20" y="502.77" width="147.63" height="6.57" fill="#9c4848"/>
<rect x="233.53" y="502.77" width="37.13" height="6.57" fill="#a0beac"/>
<rect x="270.37" y="502.77" width="6.44" height="6.57" fill="#9c4848"/>
<rect x="276.51" y="502.77" width="30.99" height="6.57" fill="#a0beac"/>
<rect x="86.20" y="509.04" width="147.63" height="6.57" fill="#9c4848"/>
<rect x="233.53" y="509.04" width="37.13" height="6.57" fill="#a0beac"/>
<rect x="270.37" y="509.04" width="6.44" height="6.57" fill="#9c4848"/>
<rect x="276.51" y="509.04" width="30.99" height="6.57" fill="#a0beac"/>
<rect x="86.20" y="515.31" width="147.63" height="6.57" fill="#9c4848"/>
<rect x="233.53" y="515.31" width="6.44" height="6.57" fill="#a0beac"/>
<rect x="239.67" y="515.31" width="6.44" height="6.57" fill="#d8ceb2"/>
<rect x="245.81" y="515.31" width="61.69" height="6.57" fill="#a0beac"/>
<rect x="86.20" y="521.58" width="135.36" height="6.57" fill="#9c4848"/>
<rect x="221.26" y="521.58" width="86.24" height="6.57" fill="#a0beac"/>
<rect x="86.20" y="527.85" width="147.63" height="6.57" fill="#9c4848"/>
<rect x="233.53" y="527.85" width="73.97" height="6.57" fill="#a0beac"/>
<rect x="86.20" y="534.12" width="147.63" height="6.57" fill="#9c4848"/>
<rect x="233.53" y="534.12" width="73.97" height="6.57" fill="#a0beac"/>
<rect x="86.20" y="540.39" width="147.63" height="6.57" fill="#9c4848"/>
<rect x="233.53" y="540.39" width="73.97" height="6.57" fill="#a0beac"/>
<rect x="86.20" y="546.66" width="135.36" height="6.57" fill="#9c4848"/>
<rect x="221.26" y="546.66" width="86.24" height="6.57" fill="#a0beac"/>
<rect x="86.20" y="552.93" width="24.86" height="6.57" fill="#9c4848"/>
<rect x="110.76" y="552.93" width="6.44" height="6.57" fill="#d8ceb2"/>
<rect x="116.89" y="552.93" width="18.72" height="6.57" fill="#9c4848"/>
<rect x="135.31" y="552.93" width="6.44" height="6.57" fill="#d8ceb2"/>
<rect x="141.45" y="552.93" width="80.11" height="6.57" fill="#9c4848"/>
<rect x="221.26" y="552.93" width="86.24" height="6.57" fill="#a0beac"/>
<rect x="86.20" y="559.20" width="147.63" height="6.57" fill="#9c4848"/>
<rect x="233.53" y="559.20" width="73.97" height="6.57" fill="#a0beac"/>
<rect x="86.20" y="565.47" width="135.36" height="6.57" fill="#9c4848"/>
<rect x="221.26" y="565.47" width="86.24" height="6.57" fill="#a0beac"/>
<rect x="86.20" y="571.74" width="37.13" height="6.57" fill="#9c4848"/>
<rect x="123.03" y="571.74" width="6.44" height="6.57" fill="#4b4141"/>
<rect x="129.17" y="571.74" width="37.13" height="6.57" fill="#9c4848"/>
<rect x="166.01" y="571.74" width="6.44" height="6.57" fill="#d8ceb2"/>
<rect x="172.14" y="571.74" width="6.44" height="6.57" fill="#a0beac"/>
<rect x="178.28" y="571.74" width="18.72" height="6.57" fill="#9c4848"/>
<rect x="196.70" y="571.74" width="6.44" height="6.57" fill="#d8ceb2"/>
<rect x="202.84" y="571.74" width="6.44" height="6.57" fill="#9c4848"/>
<rect x="208.98" y="571.74" width="6.44" height="6.57" fill="#d8ceb2"/>
<rect x="215.12" y="571.74" width="6.44" height="6.57" fill="#9c4848"/>
<rect x="221.26" y="571.74" width="86.24" height="6.57" fill="#a0beac"/>
<rect x="86.20" y="578.01" width="80.11" height="6.57" fill="#9c4848"/>
<rect x="166.01" y="578.01" width="6.44" height="6.57" fill="#d8ceb2"/>
<rect x="172.14" y="578.01" width="6.44" height="6.57" fill="#a0beac"/>
<rect x="178.28" y="578.01" width="18.72" height="6.57" fill="#9c4848"/>
<rect x="196.70" y="578.01" width="6.44" height="6.57" fill="#d8ceb2"/>
<rect x="202.84" y="578.01" width="6.44" height="6.57" fill="#9c4848"/>
<rect x="208.98" y="578.01" width="6.44" height="6.57" fill="#d8ceb2"/>
<rect x="215.12" y="578.01" width="6.44" height="6.57" fill="#9c4848"/>
<rect x="221.26" y="578.01" width="49.41" height="6.57" fill="#a0beac"/>
<rect x="270.37" y="578.01" width="6.44" height="6.57" fill="#9c4848"/>
<rect x="276.51" y="578.01" width="30.99" height="6.57" fill="#a0beac"/>
<rect x="86.20" y="584.28" width="80.11" height="6.57" fill="#9c4848"/>
<rect x="166.01" y="584.28" width="6.44" height="6.57" fill="#d8ceb2"/>
<rect x="172.14" y="584.28" width="6.44" height="6.57" fill="#a0beac"/>
<rect x="178.28" y="584.28" width="18.72" height="6.57" fill="#9c4848"/>
<rect x="196.70" y="584.28" width="6.44" height="6.57" fill="#d8ceb2"/>
<rect x="202.84" y="584.28" width="6.44" height="6.57" fill="#9c4848"/>
<rect x="208.98" y="584.28" width="6.44" height="6.57" fill="#d8ceb2"/>
<rect x="215.12" y="584.28" width="6.44" height="6.57" fill="#9c4848"/>
<rect x="221.26" y="584.28" width="86.24" height="6.57" fill="#a0beac"/>
<rect x="86.20" y="590.55" width="24.86" height="6.57" fill="#9c4848"/>
<rect x="110.76" y="590.55" width="6.44" height="6.57" fill="#d8ceb2"/>
<rect x="116.89" y="590.55" width="49.41" height="6.57" fill="#9c4848"/>
<rect x="166.01" y="590.55" width="6.44" height="6.57" fill="#d8ceb2"/>
<rect x="172.14" y="590.55" width="6.44" height="6.57" fill="#a0beac"/>
<rect x="178.28" y="590.55" width="18.72" height="6.57" fill="#9c4848"/>
<rect x="196.70" y="590.55" width="6.44" height="6.57" fill="#d8ceb2"/>
<rect x="202.84" y="590.55" width="6.44" height="6.57" fill="#9c4848"/>
<rect x="208.98" y="590.55" width="6.44" height="6.57" fill="#d8ceb2"/>
<rect x="215.12" y="590.55" width="6.44" height="6.57" fill="#9c4848"/>
<rect x="221.26" y="590.55" width="86.24" height="6.57" fill="#a0beac"/>
<rect x="86.20" y="596.82" width="135.36" height="6.57" fill="#9c4848"/>
<rect x="221.26" y="596.82" width="30.99" height="6.57" fill="#a0beac"/>
<rect x="251.95" y="596.82" width="6.44" height="6.57" fill="#d8ceb2"/>
<rect x="258.09" y="596.82" width="6.44" height="6.57" fill="#a0beac"/>
<rect x="264.23" y="596.82" width="6.44" height="6.57" fill="#d8ceb2"/>
<rect x="270.37" y="596.82" width="6.44" height="6.57" fill="#9c4848"/>
<rect x="276.51" y="596.82" width="30.99" height="6.57" fill="#a0beac"/>
<rect x="86.20" y="603.09" width="6.44" height="6.57" fill="#a0beac"/>
<rect x="92.34" y="603.09" width="6.44" height="6.57" fill="#9c4848"/>
<rect x="98.48" y="603.09" width="6.44" height="6.57" fill="#d8ceb2"/>
<rect x="104.62" y="603.09" width="12.58" height="6.57" fill="#a0beac"/>
<rect x="116.89" y="603.09" width="6.44" height="6.57" fill="#d8ceb2"/>
<rect x="123.03" y="603.09" width="12.58" height="6.57" fill="#a0beac"/>
<rect x="135.31" y="603.09" width="18.72" height="6.57" fill="#d8ceb2"/>
<rect x="153.73" y="603.09" width="6.44" height="6.57" fill="#a0beac"/>
<rect x="159.87" y="603.09" width="6.44" height="6.57" fill="#9c4848"/>
<rect x="166.01" y="603.09" width="6.44" height="6.57" fill="#a0beac"/>
<rect x="172.14" y="603.09" width="49.41" height="6.57" fill="#9c4848"/>
<rect x="221.26" y="603.09" width="86.24" height="6.57" fill="#a0beac"/>
<rect x="86.20" y="609.36" width="6.44" height="6.57" fill="#a0beac"/>
<rect x="92.34" y="609.36" width="6.44" height="6.57" fill="#9c4848"/>
<rect x="98.48" y="609.36" width="6.44" height="6.57" fill="#d8ceb2"/>
<rect x="104.62" y="609.36" width="12.58" height="6.57" fill="#a0beac"/>
<rect x="116.89" y="609.36" width="6.44" height="6.57" fill="#d8ceb2"/>
<rect x="123.03" y="609.36" width="12.58" height="6.57" fill="#a0beac"/>
<rect x="135.31" y="609.36" width="104.66" height="6.57" fill="#9c4848"/>
<rect x="239.67" y="609.36" width="67.83" height="6.57" fill="#a0beac"/>
<rect x="86.20" y="615.63" width="6.44" height="6.57" fill="#a0beac"/>
<rect x="92.34" y="615.63" width="6.44" height="6.57" fill="#9c4848"/>
<rect x="98.48" y="615.63" width="6.44" height="6.57" fill="#d8ceb2"/>
<rect x="104.62" y="615.63" width="12.58" height="6.57" fill="#a0beac"/>
<rect x="116.89" y="615.63" width="6.44" height="6.57" fill="#d8ceb2"/>
<rect x="123.03" y="615.63" width="6.44" height="6.57" fill="#a0beac"/>
<rect x="129.17" y="615.63" width="6.44" height="6.57" fill="#d8ceb2"/>
<rect x="135.31" y="615.63" width="86.24" height="6.57" fill="#9c4848"/>
<rect x="221.26" y="615.63" width="86.24" height="6.57" fill="#a0beac"/>
<rect x="86.20" y="621.90" width="6.44" height="6.57" fill="#a0beac"/>
<rect x="92.34" y="621.90" width="6.44" height="6.57" fill="#9c4848"/>
<rect x="98.48" y="621.90" width="6.44" height="6.57" fill="#d8ceb2"/>
<rect x="104.62" y="621.90" width="12.58" height="6.57" fill="#a0beac"/>
<rect x="116.89" y="621.90" width="6.44" height="6.57" fill="#d8ceb2"/>
<rect x="123.03" y="621.90" width="12.58" height="6.57" fill="#a0beac"/>
<rect x="135.31" y="621.90" width="86.24" height="6.57" fill="#9c4848"/>
<rect x="221.26" y="621.90" width="86.24" height="6.57" fill="#a0beac"/>
<rect x="86.20" y="628.17" width="6.44" height="6.57" fill="#a0beac"/>
<rect x="92.34" y="628.17" width="6.44" height="6.57" fill="#9c4848"/>
<rect x="98.48" y="628.17" width="6.44" height="6.57" fill="#d8ceb2"/>
<rect x="104.62" y="628.17" width="12.58" height="6.57" fill="#a0beac"/>
<rect x="116.89" y="628.17" width="6.44" height="6.57" fill="#d8ceb2"/>
<rect x="123.03" y="628.17" width="6.44" height="6.57" fill="#a0beac"/>
<rect x="129.17" y="628.17" width="6.44" height="6.57" fill="#d8ceb2"/>
<rect x="135.31" y="628.17" width="6.44" height="6.57" fill="#9c4848"/>
<rect x="141.45" y="628.17" width="18.72" height="6.57" fill="#d8ceb2"/>
<rect x="159.87" y="628.17" width="61.69" height="6.57" fill="#9c4848"/>
<rect x="221.26" y="628.17" width="43.27" height="6.57" fill="#a0beac"/>
<rect x="264.23" y="628.17" width="6.44" height="6.57" fill="#d8ceb2"/>
<rect x="270.37" y="628.17" width="37.13" height="6.57" fill="#a0beac"/>
<rect x="86.20" y="634.44" width="6.44" height="6.57" fill="#a0beac"/>
<rect x="92.34" y="634.44" width="6.44" height="6.57" fill="#9c4848"/>
<rect x="98.48" y="634.44" width="6.44" height="6.57" fill="#d8ceb2"/>
<rect x="104.62" y="634.44" width="12.58" height="6.57" fill="#a0beac"/>
<rect x="116.89" y="634.44" width="6.44" height="6.57" fill="#d8ceb2"/>
<rect x="123.03" y="634.44" width="6.44" height="6.57" fill="#a0beac"/>
<rect x="129.17" y="634.44" width="6.44" height="6.57" fill="#d8ceb2"/>
<rect x="135.31" y="634.44" width="6.44" height="6.57" fill="#9c4848"/>
<rect x="141.45" y="634.44" width="18.72" height="6.57" fill="#d8ceb2"/>
<rect x="159.87" y="634.44" width="61.69" height="6.57" fill="#9c4848"/>
<rect x="221.26" y="634.44" width="86.24" height="6.57" fill="#a0beac"/>
<rect x="86.20" y="640.71" width="6.44" height="6.57" fill="#a0beac"/>
<rect x="92.34" y="640.71" width="6.44" height="6.57" fill="#9c4848"/>
<rect x="98.48" y="640.71" width="6.44" height="6.57" fill="#d8ceb2"/>
<rect x="104.62" y="640.71" width="12.58" height="6.57" fill="#a0beac"/>
<rect x="116.89" y="640.71" width="6.44" height="6.57" fill="#d8ceb2"/>
<rect x="123.03" y="640.71" width="6.44" height="6.57" fill="#a0beac"/>
<rect x="129.17" y="640.71" width="6.44" height="6.57" fill="#d8ceb2"/>
<rect x="135.31" y="640.71" width="6.44" height="6.57" fill="#9c4848"/>
<rect x="141.45" y="640.71" width="18.72" height="6.57" fill="#d8ceb2"/>
<rect x="159.87" y="640.71" width="61.69" height="6.57" fill="#9c4848"/>
<rect x="221.26" y="640.71" width="86.24" height="6.57" fill="#a0beac"/>
<rect x="86.20" y="646.98" width="6.44" height="6.57" fill="#a0beac"/>
<rect x="92.34" y="646.98" width="6.44" height="6.57" fill="#9c4848"/>
<rect x="98.48" y="646.98" width="6.44" height="6.57" fill="#d8ceb2"/>
<rect x="104.62" y="646.98" width="12.58" height="6.57" fill="#a0beac"/>
<rect x="116.89" y="646.98" width="6.44" height="6.57" fill="#d8ceb2"/>
<rect x="123.03" y="646.98" width="12.58" height="6.57" fill="#a0beac"/>
<rect x="135.31" y="646.98" width="104.66" height="6.57" fill="#9c4848"/>
<rect x="239.67" y="646.98" width="30.99" height="6.57" fill="#a0beac"/>
<rect x="270.37" y="646.98" width="6.44" height="6.57" fill="#d8ceb2"/>
<rect x="276.51" y="646.98" width="30.99" height="6.57" fill="#a0beac"/>
<rect x="86.20" y="653.25" width="6.44" height="6.57" fill="#9c4848"/>
<rect x="92.34" y="653.25" width="6.44" height="6.57" fill="#a0beac"/>
<rect x="98.48" y="653.25" width="6.44" height="6.57" fill="#d8ceb2"/>
<rect x="104.62" y="653.25" width="18.72" height="6.57" fill="#a0beac"/>
<rect x="123.03" y="653.25" width="6.44" height="6.57" fill="#9c4848"/>
<rect x="129.17" y="653.25" width="6.44" height="6.57" fill="#a0beac"/>
<rect x="135.31" y="653.25" width="6.44" height="6.57" fill="#d8ceb2"/>
<rect x="141.45" y="653.25" width="49.41" height="6.57" fill="#9c4848"/>
<rect x="190.56" y="653.25" width="6.44" height="6.57" fill="#d8ceb2"/>
<rect x="196.70" y="653.25" width="24.86" height="6.57" fill="#9c4848"/>
<rect x="221.26" y="653.25" width="86.24" height="6.57" fill="#a0beac"/>
<rect x="86.20" y="659.52" width="6.44" height="6.57" fill="#9c4848"/>
<rect x="92.34" y="659.52" width="6.44" height="6.57" fill="#a0beac"/>
<rect x="98.48" y="659.52" width="6.44" height="6.57" fill="#d8ceb2"/>
<rect x="104.62" y="659.52" width="18.72" height="6.57" fill="#a0beac"/>
<rect x="123.03" y="659.52" width="6.44" height="6.57" fill="#9c4848"/>
<rect x="129.17" y="659.52" width="12.58" height="6.57" fill="#a0beac"/>
<rect x="141.45" y="659.52" width="18.72" height="6.57" fill="#9c4848"/>
<rect x="159.87" y="659.52" width="6.44" height="6.57" fill="#d8ceb2"/>
<rect x="166.01" y="659.52" width="24.86" height="6.57" fill="#9c4848"/>
<rect x="190.56" y="659.52" width="12.58" height="6.57" fill="#d8ceb2"/>
<rect x="202.84" y="659.52" width="18.72" height="6.57" fill="#9c4848"/>
<rect x="221.26" y="659.52" width="86.24" height="6.57" fill="#a0beac"/>
<rect x="86.20" y="665.79" width="6.44" height="6.57" fill="#9c4848"/>
<rect x="92.34" y="665.79" width="6.44" height="6.57" fill="#a0beac"/>
<rect x="98.48" y="665.79" width="6.44" height="6.57" fill="#d8ceb2"/>
<rect x="104.62" y="665.79" width="18.72" height="6.57" fill="#a0beac"/>
<rect x="123.03" y="665.79" width="6.44" height="6.57" fill="#9c4848"/>
<rect x="129.17" y="665.79" width="12.58" height="6.57" fill="#a0beac"/>
<rect x="141.45" y="665.79" width="18.72" height="6.57" fill="#9c4848"/>
<rect x="159.87" y="665.79" width="6.44" height="6.57" fill="#d8ceb2"/>
<rect x="166.01" y="665.79" width="24.86" height="6.57" fill="#9c4848"/>
<rect x="190.56" y="665.79" width="12.58" height="6.57" fill="#d8ceb2"/>
<rect x="202.84" y="665.79" width="18.72" height="6.57" fill="#9c4848"/>
<rect x="221.26" y="665.79" width="86.24" height="6.57" fill="#a0beac"/>
<rect x="86.20" y="672.06" width="6.44" height="6.57" fill="#9c4848"/>
<rect x="92.34" y="672.06" width="6.44" height="6.57" fill="#a0beac"/>
<rect x="98.48" y="672.06" width="6.44" height="6.57" fill="#d8ceb2"/>
<rect x="104.62" y="672.06" width="18.72" height="6.57" fill="#a0beac"/>
<rect x="123.03" y="672.06" width="6.44" height="6.57" fill="#9c4848"/>
<rect x="129.17" y="672.06" width="12.58" height="6.57" fill="#a0beac"/>
<rect x="141.45" y="672.06" width="18.72" height="6.57" fill="#9c4848"/>
<rect x="159.87" y="672.06" width="6.44" height="6.57" fill="#d8ceb2"/>
<rect x="166.01" y="672.06" width="24.86" height="6.57" fill="#9c4848"/>
<rect x="190.56" y="672.06" width="12.58" height="6.57" fill="#d8ceb2"/>
<rect x="202.84" y="672.06" width="18.72" height="6.57" fill="#9c4848"/>
<rect x="221.26" y="672.06" width="86.24" height="6.57" fill="#a0beac"/>
<rect x="86.20" y="678.33" width="6.44" height="6.57" fill="#9c4848"/>
<rect x="92.34" y="678.33" width="6.44" height="6.57" fill="#a0beac"/>
<rect x="98.48" y="678.33" width="6.44" height="6.57" fill="#d8ceb2"/>
<rect x="104.62" y="678.33" width="18.72" height="6.57" fill="#a0beac"/>
<rect x="123.03" y="678.33" width="6.44" height="6.57" fill="#9c4848"/>
<rect x="129.17" y="678.33" width="12.58" height="6.57" fill="#a0beac"/>
<rect x="141.45" y="678.33" width="18.72" height="6.57" fill="#9c4848"/>
<rect x="159.87" y="678.33" width="6.44" height="6.57" fill="#d8ceb2"/>
<rect x="166.01" y="678.33" width="24.86" height="6.57" fill="#9c4848"/>
<rect x="190.56" y="678.33" width="12.58" height="6.57" fill="#d8ceb2"/>
<rect x="202.84" y="678.33" width="18.72" height="6.57" fill="#9c4848"/>
<rect x="221.26" y="678.33" width="43.27" height="6.57" fill="#a0beac"/>
<rect x="264.23" y="678.33" width="6.44" height="6.57" fill="#d8ceb2"/>
<rect x="270.37" y="678.33" width="37.13" height="6.57" fill="#a0beac"/>
</g>
<line x1="135.31" y1="496.5" x2="135.31" y2="684.6" stroke="#2a2a2a" stroke-width="0.8" stroke-opacity="0.85"/>
<line x1="221.26" y1="496.5" x2="221.26" y2="684.6" stroke="#2a2a2a" stroke-width="0.8" stroke-opacity="0.85"/>
<line x1="239.67" y1="496.5" x2="239.67" y2="684.6" stroke="#2a2a2a" stroke-width="0.8" stroke-opacity="0.85"/>
<line x1="276.51" y1="496.5" x2="276.51" y2="684.6" stroke="#2a2a2a" stroke-width="0.8" stroke-opacity="0.85"/>
<line x1="86.2" y1="571.74" x2="307.2" y2="571.74" stroke="#2a2a2a" stroke-width="0.8" stroke-opacity="0.85"/>
<line x1="86.2" y1="603.09" x2="307.2" y2="603.09" stroke="#2a2a2a" stroke-width="0.8" stroke-opacity="0.85"/>
<line x1="86.2" y1="653.25" x2="307.2" y2="653.25" stroke="#2a2a2a" stroke-width="0.8" stroke-opacity="0.85"/>
<rect x="86.2" y="496.5" width="221" height="188.10" fill="none" stroke="#555" stroke-width="0.4"/>
<rect x="87.60" y="491.3" width="46.31" height="1.6" fill="#3f3f41"/>
<text x="110.76" y="489" font-size="5.6" text-anchor="middle">PL</text>
<rect x="136.71" y="491.3" width="83.14" height="1.6" fill="#3f3f41"/>
<text x="179.28" y="489" font-size="5.6" text-anchor="middle">PMC</text>
<rect x="222.66" y="491.3" width="15.62" height="1.6" fill="#3a8634"/>
<text x="230.46" y="489" font-size="5.6" text-anchor="middle">WK</text>
<rect x="241.07" y="491.3" width="34.03" height="1.6" fill="#74722c"/>
<text x="258.09" y="489" font-size="5.6" text-anchor="middle">WD</text>
<rect x="277.91" y="491.3" width="27.89" height="1.6" fill="#e0a432"/>
<text x="291.85" y="489" font-size="5.6" text-anchor="middle">WM</text>
<text x="50" y="501.24" font-size="4.65">Pp01:30011076</text>
<text x="50" y="507.50" font-size="4.65">Pp01:30011215</text>
<text x="50" y="513.77" font-size="4.65">Pp01:30011244</text>
<text x="50" y="520.05" font-size="4.65">Pp01:30011263</text>
<text x="50" y="526.32" font-size="4.65">Pp01:30011508</text>
<text x="50" y="532.59" font-size="4.65">Pp01:30011519</text>
<text x="50" y="538.86" font-size="4.65">Pp01:30011523</text>
<text x="50" y="545.12" font-size="4.65">Pp01:30011535</text>
<text x="50" y="551.39" font-size="4.65">Pp01:30011560</text>
<text x="50" y="557.67" font-size="4.65">Pp01:30011620</text>
<text x="50" y="563.94" font-size="4.65">Pp01:30011627</text>
<text x="50" y="570.21" font-size="4.65">Pp01:30012152</text>
<text x="50" y="576.48" font-size="4.65">Pp01:30013070</text>
<text x="50" y="582.75" font-size="4.65">Pp01:30013163</text>
<text x="50" y="589.01" font-size="4.65">Pp01:30013235</text>
<text x="50" y="595.28" font-size="4.65">Pp01:30013429</text>
<text x="50" y="601.56" font-size="4.65">Pp01:30013738</text>
<text x="50" y="607.83" font-size="4.65">Pp02:14455657</text>
<text x="50" y="614.10" font-size="4.65">Pp02:14456043</text>
<text x="50" y="620.37" font-size="4.65">Pp02:14456368</text>
<text x="50" y="626.63" font-size="4.65">Pp02:14458707</text>
<text x="50" y="632.90" font-size="4.65">Pp02:14458199</text>
<text x="50" y="639.18" font-size="4.65">Pp02:14458247</text>
<text x="50" y="645.45" font-size="4.65">Pp02:14459368</text>
<text x="50" y="651.72" font-size="4.65">Pp02:14459525</text>
<text x="50" y="657.99" font-size="4.65">Pp02:29811302</text>
<text x="50" y="664.25" font-size="4.65">Pp02:29811568</text>
<text x="50" y="670.52" font-size="4.65">Pp02:29812177</text>
<text x="50" y="676.79" font-size="4.65">Pp02:29812265</text>
<text x="50" y="683.06" font-size="4.65">Pp02:29812305</text>
<polyline points="45.8,499.24 40.7,499.24 40.7,568.00 45.8,568.00" fill="none" stroke="#555" stroke-width="0.7"/>
<text x="37.3" y="535.62" font-size="5.7" class="it red" text-anchor="end">CNR9</text>
<polyline points="45.8,573.98 40.7,573.98 40.7,600.96 45.8,600.96" fill="none" stroke="#555" stroke-width="0.7"/>
<text x="37.3" y="589.47" font-size="5.7" class="it red" text-anchor="end">CNR10</text>
<polyline points="45.8,605.43 40.7,605.43 40.7,651.01 45.8,651.01" fill="none" stroke="#555" stroke-width="0.7"/>
<text x="37.3" y="630.22" font-size="5.7" class="it red" text-anchor="end">NAC078</text>
<polyline points="45.8,655.59 40.7,655.59 40.7,682.66 45.8,682.66" fill="none" stroke="#555" stroke-width="0.7"/>
<text x="37.3" y="671.12" font-size="5.7" class="it red" text-anchor="end">TTG1</text>
<text x="2.4" y="489.8" font-size="11.3" font-weight="bold">b</text>
<rect x="310.6" y="555.5" width="5.1" height="5.1" fill="#d8ceb2"/>
<rect x="323" y="555.5" width="5.1" height="5.1" fill="#3d3030"/>
<rect x="312.4" y="674" width="5.1" height="5.1" fill="#9c4848"/>
<rect x="324.4" y="674" width="5.1" height="5.1" fill="#a0beac"/>
<text transform="translate(315.6,552.2) rotate(-90)" font-size="5.45" text-anchor="start" class="" >Heterozygote</text>
<text transform="translate(327.8,552.2) rotate(-90)" font-size="5.45" text-anchor="start" class="" >No call</text>
<text transform="translate(317.0,671.5) rotate(-90)" font-size="5.45" text-anchor="start" class="" >Homozygous reference</text>
<text transform="translate(329.0,671.5) rotate(-90)" font-size="5.45" text-anchor="start" class="" >Homozygous variant</text>
</svg></body></html>
